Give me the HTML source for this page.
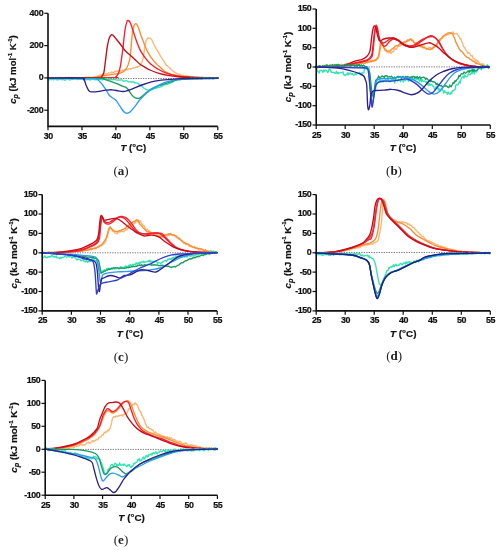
<!DOCTYPE html><html><head><meta charset="utf-8"><style>html,body{margin:0;padding:0;background:#fff;}svg{display:block;}.tk{font-family:"Liberation Sans",Arial,sans-serif;font-weight:bold;font-size:8.9px;letter-spacing:-0.4px;fill:#111;stroke:#111;stroke-width:0.2px;}.al{font-family:"Liberation Sans",Arial,sans-serif;font-weight:bold;font-size:9.6px;fill:#111;stroke:#111;stroke-width:0.2px;}.pl{font-family:"Liberation Serif","Times New Roman",serif;font-size:13px;fill:#222;}</style></head><body>
<svg width="501" height="550" viewBox="0 0 501 550">
<rect width="501" height="550" fill="#fff"/>
<g><line x1="48.0" y1="78.5" x2="217.8" y2="78.5" stroke="#7a7a7a" stroke-width="1" stroke-dasharray="1.3 1.2"/><path d="M48.0 77.8 L48.4 77.9 L48.9 78.0 L49.4 78.1 L49.9 78.2 L50.5 78.0 L51.1 78.2 L51.8 77.3 L52.4 77.7 L53.2 78.2 L53.9 77.9 L54.7 78.2 L55.4 77.4 L56.2 77.7 L57.1 77.5 L57.9 77.8 L58.8 77.9 L59.7 77.3 L60.6 77.5 L61.5 77.6 L62.5 78.2 L63.4 78.0 L64.4 77.4 L65.3 78.1 L66.3 77.4 L67.3 77.9 L68.2 77.4 L69.2 77.3 L70.2 78.1 L71.2 77.5 L72.2 77.5 L73.1 78.2 L74.1 78.1 L75.1 77.5 L76.0 78.2 L77.0 77.7 L77.9 77.9 L78.8 77.4 L79.7 78.1 L80.6 77.9 L81.5 78.1 L82.3 78.0 L83.2 77.4 L84.0 77.5 L84.8 77.3 L85.5 77.2 L86.3 77.1 L87.0 77.3 L87.6 77.6 L88.3 77.0 L88.9 77.6 L89.5 77.3 L90.0 77.2 L91.7 77.6 L93.1 77.1 L94.3 76.8 L95.4 76.9 L96.2 76.9 L97.0 76.1 L97.6 76.8 L98.1 75.7 L98.6 76.2 L99.1 76.1 L99.6 75.1 L100.1 75.7 L100.6 75.0 L101.3 75.1 L102.0 74.3 L102.8 74.2 L103.6 74.1 L104.4 74.7 L105.2 73.7 L106.0 74.0 L106.8 74.0 L107.6 73.8 L108.4 73.0 L109.2 72.8 L110.0 72.8 L110.8 72.8 L111.6 72.0 L112.4 72.4 L113.2 72.3 L114.0 72.2 L114.9 71.2 L115.7 71.9 L116.6 70.9 L117.4 71.0 L118.3 71.2 L119.1 71.3 L120.0 70.6 L120.8 71.1 L121.6 70.6 L122.5 70.2 L123.3 70.1 L124.2 69.8 L125.0 69.5 L125.9 69.4 L126.7 69.8 L127.6 69.9 L128.5 68.9 L129.4 68.6 L130.3 69.3 L131.2 68.6 L132.1 68.3 L133.0 67.9 L133.8 68.0 L134.6 68.0 L135.4 67.5 L136.1 67.2 L136.8 66.7 L137.4 67.4 L137.9 66.3 L139.6 66.1 L140.0 65.8 L141.5 62.8 L142.5 60.7 L143.3 57.6 L144.2 51.0 L145.0 45.8 L146.0 40.9 L147.3 38.7 L148.1 37.8 L149.0 38.1 L150.5 38.2 L152.0 40.1 L153.5 43.5 L155.0 46.5 L156.1 48.6 L157.3 50.3 L158.5 52.4 L159.7 54.7 L160.8 56.5 L162.0 58.3 L162.8 59.7 L163.6 60.7 L164.5 62.2 L165.3 63.8 L166.2 64.9 L167.1 65.6 L168.0 66.5 L168.9 67.2 L169.7 67.8 L170.6 68.7 L171.5 70.0 L172.5 70.8 L173.4 71.1 L174.4 72.2 L175.4 72.8 L176.3 73.2 L177.2 73.6 L178.1 74.1 L179.0 74.1 L179.7 74.7 L180.4 74.5 L181.1 75.0 L181.9 75.5 L183.0 75.7 L183.6 75.4 L184.3 76.2 L185.1 76.0 L185.9 76.1 L186.7 75.6 L187.5 76.3 L188.4 76.1 L189.3 76.6 L190.1 76.5 L191.0 76.9 L191.7 76.8 L192.5 77.0 L193.1 76.6 L193.8 77.0 L194.5 77.1 L195.2 77.3 L196.0 76.9 L196.9 77.4 L197.8 77.5 L198.8 77.3 L200.0 77.7 L200.6 77.7 L201.4 77.3 L202.1 77.3 L203.0 77.0 L203.8 77.7 L204.7 77.8 L205.7 77.4 L206.6 77.6 L207.6 77.7 L208.6 77.7 L209.6 77.2 L210.5 77.8 L211.5 77.7 L212.4 77.8 L213.3 77.6 L214.1 77.8 L215.0 78.0 L215.7 77.9 L216.4 78.0 L217.0 77.3 L217.5 77.4 L218.0 77.8" fill="none" stroke="#ffb574" stroke-width="1.35" stroke-linejoin="round" stroke-linecap="round"/><path d="M48.0 77.8 C55.0 77.8 81.0 77.9 90.0 77.6 C99.0 77.3 98.0 76.5 102.0 75.9 C106.0 75.3 110.8 74.7 114.0 74.2 C117.2 73.7 119.1 73.6 121.1 72.8 C123.1 72.0 124.7 70.6 125.9 69.2 C127.1 67.8 127.6 66.4 128.3 64.4 C129.0 62.4 129.7 59.9 130.1 57.2 C130.5 54.6 130.7 52.3 131.0 48.5 C131.3 44.7 131.7 38.3 132.2 34.5 C132.7 30.7 133.4 27.6 134.0 25.8 C134.6 24.0 135.3 23.4 136.0 23.6 C136.7 23.8 137.4 25.2 138.2 27.0 C139.0 28.8 139.6 31.4 140.6 34.2 C141.6 37.0 143.0 40.7 144.2 43.7 C145.4 46.7 146.4 49.5 147.8 52.1 C149.2 54.7 151.0 57.3 152.5 59.3 C154.0 61.3 155.4 62.8 156.7 64.1 C157.9 65.4 158.6 65.8 160.0 67.0 C161.4 68.2 162.9 70.2 165.0 71.5 C167.1 72.8 169.5 73.9 172.5 74.7 C175.5 75.5 178.4 76.1 183.0 76.6 C187.6 77.1 194.2 77.3 200.0 77.5 C205.8 77.7 215.0 77.8 218.0 77.9" fill="none" stroke="#ff8c2e" stroke-width="1.35" stroke-linejoin="round" stroke-linecap="round"/><path d="M48.0 77.8 C58.7 77.8 100.7 77.7 112.0 77.6 C123.3 77.5 114.6 77.8 115.7 77.0 C116.8 76.2 117.9 74.7 118.7 72.8 C119.5 70.9 120.0 68.2 120.5 65.6 C121.0 63.0 121.3 60.0 121.7 57.2 C122.1 54.4 122.5 52.2 122.9 49.0 C123.3 45.8 123.6 41.7 124.0 38.0 C124.4 34.3 125.0 29.8 125.5 27.0 C126.0 24.2 126.6 22.6 127.0 21.5 C127.4 20.4 127.6 20.5 128.0 20.5 C128.4 20.5 129.0 20.8 129.5 21.5 C130.0 22.2 130.3 22.9 131.0 24.6 C131.7 26.3 132.4 28.8 133.4 31.8 C134.4 34.8 135.8 39.3 137.0 42.5 C138.2 45.7 139.2 48.3 140.6 50.9 C142.0 53.5 143.7 55.9 145.4 58.1 C147.1 60.3 148.7 62.2 150.7 64.0 C152.7 65.8 155.1 67.4 157.5 68.8 C159.9 70.2 161.8 71.4 165.0 72.6 C168.2 73.8 172.0 75.2 177.0 76.0 C182.0 76.8 188.2 77.2 195.0 77.5 C201.8 77.8 214.2 77.8 218.0 77.9" fill="none" stroke="#ff1d2a" stroke-width="1.35" stroke-linejoin="round" stroke-linecap="round"/><path d="M48.0 77.8 C56.0 77.8 87.1 77.8 96.0 77.7 C104.9 77.6 100.1 77.8 101.4 77.0 C102.7 76.2 103.2 74.9 103.8 72.8 C104.4 70.7 104.6 67.4 105.0 64.4 C105.4 61.4 105.8 58.0 106.2 54.8 C106.6 51.6 107.0 47.9 107.6 45.0 C108.1 42.1 108.8 39.2 109.5 37.5 C110.2 35.8 110.9 34.9 111.6 34.6 C112.3 34.3 112.8 35.1 113.5 35.8 C114.2 36.5 115.1 37.7 116.0 38.8 C116.9 39.9 117.9 41.1 119.0 42.5 C120.1 43.9 121.5 45.7 122.5 47.0 C123.5 48.3 124.0 49.4 125.0 50.5 C126.0 51.6 127.3 52.7 128.5 53.8 C129.7 54.9 130.9 55.8 132.2 56.9 C133.4 58.0 134.8 59.3 136.0 60.5 C137.2 61.7 138.2 62.9 139.7 64.0 C141.2 65.1 143.3 66.3 145.0 67.3 C146.7 68.3 147.7 69.0 150.0 70.0 C152.3 71.0 155.8 72.5 159.0 73.4 C162.2 74.4 166.0 75.1 169.5 75.7 C173.0 76.3 175.8 76.7 180.0 77.0 C184.2 77.3 188.7 77.4 195.0 77.6 C201.3 77.8 214.2 77.9 218.0 77.9" fill="none" stroke="#c80c18" stroke-width="1.35" stroke-linejoin="round" stroke-linecap="round"/><path d="M48.0 79.5 L48.5 79.1 L49.1 79.9 L49.8 79.8 L50.5 79.2 L51.2 79.5 L52.0 79.4 L52.9 79.7 L53.8 79.8 L54.7 79.0 L55.7 78.9 L56.7 79.9 L57.7 79.4 L58.8 79.8 L59.9 78.9 L61.0 79.4 L62.1 79.8 L63.3 79.2 L64.4 80.0 L65.6 80.0 L66.7 78.9 L67.9 78.9 L69.1 79.6 L70.2 80.0 L71.4 79.4 L72.5 79.2 L73.7 79.4 L74.8 78.9 L75.9 79.2 L76.9 79.4 L78.0 79.5 L79.0 79.2 L80.0 79.2 L81.0 79.2 L82.1 79.4 L83.1 79.2 L84.2 78.9 L85.3 79.9 L86.4 79.5 L87.4 79.6 L88.5 79.1 L89.6 80.0 L90.7 79.8 L91.7 78.9 L92.8 79.2 L93.9 79.6 L94.9 79.6 L96.0 79.9 L97.0 79.2 L98.1 79.7 L99.1 79.5 L100.1 79.1 L101.1 79.4 L102.1 79.8 L103.1 79.7 L104.0 79.3 L104.9 79.4 L105.8 78.8 L106.7 79.0 L107.6 79.7 L108.4 79.3 L109.2 79.0 L110.0 79.5 L111.4 79.7 L112.7 79.7 L114.0 79.4 L115.1 79.6 L116.3 79.8 L117.3 80.2 L118.3 80.0 L119.3 80.0 L120.2 80.2 L121.1 79.8 L122.0 79.9 L122.8 80.8 L123.6 81.3 L124.4 80.9 L125.2 80.8 L126.0 80.6 L127.4 81.2 L128.6 81.9 L129.8 81.8 L130.9 81.7 L132.0 82.3 L132.9 81.7 L133.8 82.2 L134.7 82.9 L135.5 82.7 L137.0 83.1 L138.1 83.5 L139.1 84.4 L140.0 85.5 L141.2 85.2 L142.3 86.9 L143.5 87.8 L144.4 88.5 L145.4 89.1 L146.4 89.8 L147.5 89.8 L148.5 89.9 L149.5 89.7 L150.6 89.1 L151.8 89.8 L153.1 89.1 L154.0 88.4 L154.9 88.6 L155.9 88.3 L156.8 87.8 L157.9 87.5 L158.9 87.4 L160.0 87.1 L161.1 86.7 L162.1 86.2 L163.1 85.2 L164.1 85.0 L165.2 84.5 L166.2 84.5 L167.3 84.4 L168.4 83.8 L169.6 83.4 L170.7 83.0 L171.6 82.0 L172.3 82.4 L173.0 81.8 L173.6 80.8 L174.3 80.4 L175.0 80.1 L175.9 80.7 L177.0 79.8 L178.3 79.4 L179.9 79.8 L181.9 79.2 L182.6 78.8 L183.3 78.9 L184.2 79.3 L185.0 78.8 L185.9 78.9 L186.9 79.3 L187.9 79.0 L188.9 78.8 L190.0 78.9 L191.1 78.3 L192.3 78.7 L193.4 78.7 L194.6 78.4 L195.8 78.3 L197.0 79.2 L198.2 78.7 L199.4 78.3 L200.7 78.8 L201.9 79.0 L203.1 78.0 L204.3 78.0 L205.4 78.1 L206.6 78.8 L207.7 78.1 L208.8 78.7 L209.9 78.7 L210.9 78.5 L211.9 78.1 L212.9 79.0 L213.8 78.8 L214.6 78.4 L215.4 78.0 L216.2 78.5 L216.9 78.2 L217.5 78.4 L218.0 78.3" fill="none" stroke="#35e3b5" stroke-width="1.35" stroke-linejoin="round" stroke-linecap="round"/><path d="M48.0 78.3 C56.7 78.3 91.0 78.4 100.0 78.4 C109.0 78.5 100.3 78.0 102.3 78.6 C104.3 79.2 109.3 80.9 111.9 81.8 C114.5 82.7 116.5 83.6 118.0 84.2 C119.5 84.8 119.7 85.0 121.0 85.5 C122.3 86.0 124.8 86.7 126.0 87.4 C127.2 88.2 127.7 89.0 128.5 90.0 C129.3 91.0 130.0 92.6 130.8 93.7 C131.6 94.8 132.6 96.0 133.5 96.8 C134.4 97.5 135.5 98.0 136.3 98.2 C137.1 98.5 137.8 98.4 138.5 98.3 C139.2 98.2 139.2 98.5 140.3 97.7 C141.4 96.9 143.2 95.2 145.1 93.7 C147.0 92.2 148.8 90.5 151.5 89.0 C154.2 87.5 157.9 86.2 161.1 85.0 C164.3 83.8 167.2 82.7 170.7 81.8 C174.2 80.9 174.0 80.0 181.9 79.4 C189.8 78.8 212.0 78.5 218.0 78.3" fill="none" stroke="#1c9b5e" stroke-width="1.35" stroke-linejoin="round" stroke-linecap="round"/><path d="M48.0 78.3 C55.7 78.3 86.0 78.3 94.3 78.6 C102.6 78.9 96.9 79.3 98.0 80.0 C99.1 80.7 99.9 81.7 100.7 82.6 C101.5 83.5 102.2 84.4 103.0 85.5 C103.8 86.6 104.5 87.5 105.5 89.0 C106.5 90.5 107.8 93.2 108.7 94.5 C109.6 95.8 110.2 96.1 111.0 96.8 C111.8 97.5 112.6 97.8 113.5 98.5 C114.4 99.2 115.4 99.7 116.4 100.9 C117.4 102.1 118.5 104.1 119.6 105.7 C120.7 107.3 121.9 109.3 122.8 110.5 C123.7 111.7 124.3 112.1 125.0 112.6 C125.7 113.0 126.2 113.2 126.8 113.2 C127.4 113.2 127.8 113.1 128.5 112.8 C129.2 112.5 129.6 112.5 130.8 111.3 C132.0 110.1 133.9 107.7 135.5 105.7 C137.1 103.7 138.4 101.4 140.3 99.3 C142.2 97.2 144.3 94.9 146.7 92.9 C149.1 90.9 151.8 89.1 154.7 87.4 C157.6 85.7 161.1 83.8 164.3 82.6 C167.5 81.4 170.7 80.9 173.9 80.2 C177.1 79.5 176.2 78.9 183.5 78.6 C190.8 78.3 212.2 78.3 218.0 78.2" fill="none" stroke="#2a9cf0" stroke-width="1.35" stroke-linejoin="round" stroke-linecap="round"/><path d="M48.0 78.1 C53.6 78.1 75.6 77.9 81.5 78.1 C87.4 78.3 83.0 79.0 83.5 79.5 C84.0 80.0 84.2 80.0 84.7 81.0 C85.2 82.0 85.6 84.2 86.3 85.8 C87.0 87.4 87.9 89.5 88.7 90.5 C89.5 91.5 89.4 91.7 91.1 91.8 C92.8 91.9 96.7 91.6 99.1 91.3 C101.5 91.0 103.4 90.5 105.5 90.2 C107.6 90.0 109.8 89.7 111.9 89.8 C114.0 89.9 116.5 90.6 118.3 90.9 C120.1 91.2 121.4 91.6 123.0 91.5 C124.6 91.4 126.0 91.0 127.8 90.5 C129.6 90.0 131.7 89.1 134.0 88.2 C136.3 87.3 139.0 86.1 141.9 85.0 C144.8 83.9 148.3 82.6 151.5 81.8 C154.7 81.0 157.4 80.7 161.1 80.2 C164.8 79.8 169.1 79.4 173.9 79.1 C178.7 78.8 182.7 78.6 190.0 78.4 C197.3 78.2 213.3 78.1 218.0 78.1" fill="none" stroke="#2d1f8e" stroke-width="1.35" stroke-linejoin="round" stroke-linecap="round"/><path d="M48.0 13.3 V126.4 H217.8" fill="none" stroke="#111" stroke-width="1.6"/><line x1="48.0" y1="126.4" x2="48.0" y2="130.3" stroke="#111" stroke-width="1.2"/><text class="tk" x="48.3" y="138.9" text-anchor="middle">30</text><line x1="82.0" y1="126.4" x2="82.0" y2="130.3" stroke="#111" stroke-width="1.2"/><text class="tk" x="82.3" y="138.9" text-anchor="middle">35</text><line x1="115.9" y1="126.4" x2="115.9" y2="130.3" stroke="#111" stroke-width="1.2"/><text class="tk" x="116.2" y="138.9" text-anchor="middle">40</text><line x1="149.9" y1="126.4" x2="149.9" y2="130.3" stroke="#111" stroke-width="1.2"/><text class="tk" x="150.2" y="138.9" text-anchor="middle">45</text><line x1="183.8" y1="126.4" x2="183.8" y2="130.3" stroke="#111" stroke-width="1.2"/><text class="tk" x="184.1" y="138.9" text-anchor="middle">50</text><line x1="217.8" y1="126.4" x2="217.8" y2="130.3" stroke="#111" stroke-width="1.2"/><text class="tk" x="218.1" y="138.9" text-anchor="middle">55</text><line x1="44.3" y1="110.2" x2="48.0" y2="110.2" stroke="#111" stroke-width="1.2"/><text class="tk" x="43.2" y="112.6" text-anchor="end">-200</text><line x1="44.3" y1="77.9" x2="48.0" y2="77.9" stroke="#111" stroke-width="1.2"/><text class="tk" x="43.2" y="80.3" text-anchor="end">0</text><line x1="44.3" y1="45.6" x2="48.0" y2="45.6" stroke="#111" stroke-width="1.2"/><text class="tk" x="43.2" y="48.0" text-anchor="end">200</text><line x1="44.3" y1="13.3" x2="48.0" y2="13.3" stroke="#111" stroke-width="1.2"/><text class="tk" x="43.2" y="15.7" text-anchor="end">400</text><text class="al" style="font-size:9.60px" x="133.3" y="151.0" text-anchor="middle"><tspan font-style="italic">T</tspan> (<tspan dy="-0.7">°</tspan><tspan dy="0.7">C)</tspan></text><text class="al" style="font-size:9.60px" transform="translate(16.2 69.5) rotate(-90)" text-anchor="middle"><tspan font-style="italic">c</tspan><tspan font-style="italic" font-size="7.01px" dy="2.02">p</tspan><tspan dy="-2.02"> (kJ mol</tspan><tspan font-size="5.47px" dy="-4.22">-1</tspan><tspan dy="4.22"> K</tspan><tspan font-size="5.47px" dy="-4.22">-1</tspan><tspan dy="4.22">)</tspan></text><text class="pl" x="121.0" y="175.0" text-anchor="middle">(<tspan font-weight="bold">a</tspan>)</text></g>
<g><line x1="316.2" y1="66.9" x2="490.3" y2="66.9" stroke="#7a7a7a" stroke-width="1" stroke-dasharray="1.3 1.2"/><path d="M316.0 67.0 L316.4 66.8 L316.9 67.1 L317.4 67.9 L318.0 66.7 L318.7 66.7 L319.4 66.9 L320.1 65.8 L320.9 66.5 L321.7 66.7 L322.6 67.0 L323.4 65.3 L324.3 65.7 L325.1 65.1 L326.0 66.7 L326.6 66.4 L327.2 64.8 L327.9 67.0 L328.5 66.9 L329.2 66.1 L329.9 66.0 L330.6 64.8 L331.3 64.5 L332.0 65.6 L332.7 64.5 L333.4 64.7 L334.1 64.8 L334.9 64.3 L335.6 65.3 L336.3 65.1 L337.1 66.1 L337.8 65.2 L338.5 65.5 L339.3 65.1 L340.0 65.4 L340.7 64.8 L341.4 64.3 L342.1 66.0 L342.8 65.9 L343.5 65.5 L344.3 65.1 L345.0 64.1 L345.7 63.8 L346.5 63.9 L347.2 63.3 L347.9 64.9 L348.7 64.0 L349.4 65.0 L350.1 63.8 L350.8 65.1 L351.5 64.7 L352.3 62.6 L353.0 63.0 L353.6 64.6 L354.3 63.5 L355.0 64.7 L355.8 63.2 L356.6 62.3 L357.4 63.5 L358.1 63.7 L358.9 62.4 L359.7 61.9 L360.5 62.3 L361.2 63.7 L362.0 63.1 L362.7 61.5 L363.5 61.7 L364.2 61.2 L364.9 61.0 L365.6 62.6 L366.2 61.0 L366.8 61.8 L367.4 61.5 L368.0 60.8 L369.0 61.9 L369.8 60.3 L370.6 61.4 L371.4 60.1 L372.1 60.7 L372.7 60.1 L373.3 60.1 L373.9 61.6 L374.4 61.0 L375.0 59.5 L376.0 60.3 L376.9 58.1 L377.7 57.8 L378.4 57.9 L379.0 56.3 L379.9 51.1 L380.5 49.2 L381.5 41.8 L382.2 42.0 L383.0 44.7 L383.9 46.0 L385.0 48.5 L385.7 49.1 L386.4 50.1 L387.2 52.1 L388.0 51.9 L388.7 52.9 L389.5 52.4 L390.4 52.5 L391.2 53.5 L392.0 52.0 L392.8 51.7 L393.6 51.7 L394.4 49.3 L395.2 48.4 L396.0 49.5 L396.8 48.5 L397.6 46.5 L398.3 45.6 L399.1 46.2 L400.0 46.1 L400.7 43.9 L401.3 45.3 L402.1 44.8 L402.8 43.8 L403.5 43.0 L404.3 41.9 L405.0 41.4 L405.8 43.2 L406.5 41.0 L407.3 41.6 L408.1 40.1 L408.8 41.1 L409.6 40.3 L410.4 39.5 L411.2 39.4 L411.9 41.0 L412.6 39.8 L413.4 40.7 L414.1 42.1 L414.9 43.3 L415.8 43.3 L416.4 42.8 L417.1 44.7 L417.8 43.4 L418.6 43.3 L419.3 44.3 L420.0 45.1 L420.8 44.5 L421.5 45.1 L422.3 45.9 L423.0 46.7 L423.7 45.9 L424.5 46.7 L425.2 48.3 L425.9 48.8 L426.7 48.3 L427.4 48.6 L428.1 48.5 L428.8 47.5 L429.5 47.4 L430.1 47.3 L431.0 49.4 L431.8 48.7 L432.5 49.1 L433.3 46.5 L434.0 47.5 L434.7 46.6 L435.5 46.6 L436.3 44.8 L437.1 45.4 L437.9 42.1 L438.7 42.1 L439.5 41.4 L440.2 40.8 L440.9 39.6 L441.7 38.5 L442.5 38.0 L443.2 37.6 L443.8 35.7 L444.5 35.9 L445.2 36.0 L445.9 35.6 L446.6 34.3 L447.3 34.9 L448.0 34.9 L448.8 33.9 L449.6 33.8 L450.4 33.0 L451.2 33.3 L452.0 33.3 L452.8 31.9 L453.7 33.2 L454.5 34.0 L455.3 33.8 L456.0 33.5 L457.1 33.4 L458.0 35.6 L458.7 36.2 L459.4 37.0 L460.2 39.4 L461.0 39.0 L461.7 42.2 L462.4 42.3 L463.2 45.6 L464.0 47.0 L464.7 47.5 L465.4 49.8 L466.2 50.3 L467.1 51.7 L468.0 53.5 L468.7 52.7 L469.4 52.8 L470.1 54.3 L470.9 56.0 L471.7 55.6 L472.5 56.3 L473.2 58.8 L474.0 58.9 L474.8 59.0 L475.5 60.7 L476.3 60.0 L477.1 61.4 L477.8 60.8 L478.6 61.9 L479.3 63.3 L480.0 64.0 L480.8 64.4 L481.5 63.6 L482.2 64.5 L483.0 64.2 L483.6 64.0 L484.3 65.2 L485.0 66.3 L485.8 66.7 L486.7 66.6 L487.5 67.5 L488.3 66.1 L488.9 66.1 L489.4 67.0" fill="none" stroke="#ffb574" stroke-width="1.35" stroke-linejoin="round" stroke-linecap="round"/><path d="M316.0 67.0 L316.4 67.0 L316.9 67.2 L317.5 67.2 L318.1 66.6 L318.7 66.4 L319.4 66.9 L320.1 66.7 L320.9 67.4 L321.7 67.2 L322.6 67.1 L323.4 67.1 L324.3 67.2 L325.2 66.6 L326.1 67.0 L327.1 66.6 L328.0 67.5 L328.9 66.5 L329.9 67.4 L330.8 66.5 L331.8 67.2 L332.7 66.8 L333.6 66.9 L334.5 67.4 L335.4 66.4 L336.2 66.4 L337.1 67.4 L337.9 66.9 L338.6 66.4 L339.3 67.4 L340.0 67.3 L341.1 66.3 L342.0 66.6 L343.0 66.1 L343.9 66.3 L344.7 66.5 L345.6 65.9 L346.3 66.4 L347.1 65.5 L347.9 65.6 L348.6 66.2 L349.4 65.6 L350.1 65.5 L350.9 65.6 L351.6 65.3 L352.4 65.0 L353.3 64.4 L354.1 65.1 L355.0 65.3 L355.8 65.1 L356.6 64.6 L357.4 64.1 L358.3 64.0 L359.2 64.2 L360.0 64.0 L361.0 63.2 L361.9 63.2 L362.8 63.1 L363.7 63.1 L364.6 63.3 L365.5 62.8 L366.4 62.0 L367.3 62.8 L368.1 62.2 L369.0 62.1 L369.7 61.6 L370.5 61.7 L371.2 61.4 L371.8 61.7 L372.5 60.8 L373.0 61.2 L374.6 60.2 L375.7 60.5 L376.4 59.3 L376.9 59.2 L377.3 58.7 L377.8 58.3 L378.9 53.7 L379.6 49.7 L380.7 41.0 L381.9 42.2 L382.7 44.7 L383.7 47.9 L384.4 48.7 L385.2 50.6 L386.1 50.5 L386.9 51.7 L387.8 51.2 L388.7 50.9 L389.7 51.2 L390.4 51.0 L391.2 49.4 L392.0 49.0 L392.9 48.9 L393.7 47.7 L394.5 47.0 L395.3 46.2 L396.1 45.7 L396.8 45.9 L397.6 45.8 L398.4 45.4 L399.3 44.3 L400.1 43.4 L400.9 43.4 L401.7 43.6 L402.5 43.4 L403.4 42.8 L404.2 42.0 L405.0 42.0 L405.9 41.5 L406.8 41.0 L407.7 39.9 L408.6 40.2 L409.5 39.8 L410.4 38.9 L411.3 39.4 L412.1 40.7 L413.0 40.8 L413.9 42.6 L414.8 42.9 L415.8 43.9 L416.6 44.4 L417.5 44.4 L418.4 44.9 L419.3 45.4 L420.2 46.3 L421.2 46.8 L422.1 46.5 L423.0 47.8 L423.9 47.6 L424.8 47.7 L425.7 48.3 L426.7 49.2 L427.6 49.0 L428.4 49.2 L429.3 49.6 L430.1 49.7 L431.1 49.2 L432.0 48.3 L432.9 48.0 L433.8 47.6 L434.6 46.7 L435.5 45.6 L436.4 44.3 L437.4 43.1 L438.3 42.2 L439.2 40.7 L440.1 38.8 L440.9 38.7 L441.8 37.7 L442.6 36.6 L443.4 36.0 L444.5 35.3 L445.3 34.5 L446.2 34.4 L447.1 33.5 L448.2 32.9 L449.2 32.9 L450.1 32.7 L451.0 33.4 L451.7 33.2 L452.9 34.2 L453.5 36.2 L454.4 37.9 L455.2 40.2 L456.0 42.4 L456.9 44.2 L457.9 46.1 L458.9 48.1 L459.7 49.3 L460.6 50.8 L461.5 51.3 L462.5 52.2 L463.4 53.4 L464.3 54.7 L465.2 55.7 L466.0 56.3 L466.9 57.4 L467.8 57.4 L468.7 57.7 L469.7 59.0 L470.5 59.5 L471.4 59.8 L472.3 61.0 L473.2 61.2 L474.1 61.6 L475.1 62.3 L476.0 63.6 L476.9 62.9 L477.8 63.8 L478.7 64.1 L479.6 64.4 L480.6 65.0 L481.5 65.1 L482.3 66.2 L483.2 66.0 L484.0 66.4 L485.1 66.0 L486.1 66.6 L487.1 66.9 L488.1 67.3 L488.8 66.6 L489.4 67.0" fill="none" stroke="#ff8c2e" stroke-width="1.35" stroke-linejoin="round" stroke-linecap="round"/><path d="M316.0 67.0 C320.0 66.9 333.5 67.1 340.0 66.5 C346.5 65.9 350.5 64.5 355.0 63.5 C359.5 62.5 364.2 61.6 367.0 60.5 C369.8 59.4 370.8 58.5 371.8 56.9 C372.8 55.3 372.6 53.9 373.0 50.9 C373.4 47.9 373.8 42.8 374.2 39.0 C374.6 35.2 375.0 30.5 375.4 28.2 C375.8 25.9 375.9 25.0 376.3 25.2 C376.7 25.4 377.4 27.5 377.8 29.4 C378.2 31.3 378.5 34.5 379.0 36.6 C379.5 38.7 379.9 40.4 380.7 42.0 C381.5 43.6 382.8 45.5 383.7 46.1 C384.6 46.7 385.1 46.3 386.1 45.5 C387.1 44.7 388.5 42.4 389.7 41.3 C390.9 40.2 391.9 39.1 393.3 39.0 C394.7 38.9 396.5 39.8 398.1 40.7 C399.7 41.6 401.1 43.3 402.9 44.3 C404.7 45.3 407.0 46.4 408.9 46.7 C410.8 47.1 411.6 47.5 414.0 46.4 C416.4 45.3 420.2 41.9 423.0 40.1 C425.8 38.3 428.6 35.7 431.0 35.7 C433.4 35.7 435.4 37.9 437.3 40.1 C439.2 42.3 440.9 46.4 442.7 49.1 C444.5 51.8 446.0 54.2 448.1 56.3 C450.2 58.4 452.6 60.3 455.3 61.7 C458.0 63.1 460.7 64.1 464.3 64.9 C467.9 65.7 472.7 66.2 476.9 66.6 C481.1 67.0 487.3 67.0 489.4 67.1" fill="none" stroke="#ff1d2a" stroke-width="1.35" stroke-linejoin="round" stroke-linecap="round"/><path d="M316.0 67.0 C320.0 66.9 333.5 67.0 340.0 66.3 C346.5 65.6 350.5 64.1 355.0 63.0 C359.5 61.9 364.2 61.0 367.0 59.8 C369.8 58.5 370.5 57.5 371.5 55.5 C372.5 53.5 372.4 51.2 372.8 48.0 C373.2 44.8 373.6 39.3 374.0 36.0 C374.4 32.7 374.9 29.6 375.2 28.0 C375.5 26.4 375.6 26.2 376.0 26.5 C376.4 26.8 376.8 28.2 377.3 30.0 C377.8 31.8 378.3 35.1 378.8 37.0 C379.3 38.9 379.7 40.5 380.5 41.5 C381.3 42.5 382.6 43.1 383.7 43.0 C384.8 42.9 385.8 41.8 387.0 41.0 C388.2 40.2 389.7 38.9 391.0 38.5 C392.3 38.1 393.7 38.2 395.0 38.5 C396.3 38.8 397.7 39.7 399.0 40.5 C400.3 41.3 401.4 42.6 403.0 43.5 C404.6 44.4 407.1 45.5 408.9 45.8 C410.7 46.0 411.6 46.1 414.0 45.0 C416.4 43.9 419.8 40.4 423.0 39.0 C426.2 37.6 430.4 36.3 433.0 36.6 C435.6 36.9 436.8 38.8 438.5 41.0 C440.2 43.2 441.8 47.3 443.5 50.0 C445.2 52.7 446.9 55.0 449.0 57.0 C451.1 59.0 453.3 60.7 456.0 62.0 C458.7 63.3 461.5 64.2 465.0 65.0 C468.5 65.8 472.9 66.2 477.0 66.6 C481.1 66.9 487.3 67.0 489.4 67.1" fill="none" stroke="#e8202e" stroke-width="1.35" stroke-linejoin="round" stroke-linecap="round"/><path d="M316.0 67.0 C319.0 67.0 329.2 67.0 334.0 66.7 C338.8 66.4 341.5 65.9 345.0 65.0 C348.5 64.1 352.1 62.1 355.0 61.1 C357.9 60.1 360.2 60.1 362.2 59.3 C364.2 58.5 365.7 57.7 367.0 56.3 C368.3 54.9 369.3 53.4 370.0 50.9 C370.7 48.4 370.8 44.5 371.2 41.3 C371.6 38.1 372.0 34.2 372.4 31.8 C372.8 29.4 373.2 28.0 373.6 27.0 C374.0 26.0 374.4 25.8 374.8 26.0 C375.2 26.2 375.6 26.8 376.0 28.2 C376.4 29.6 376.7 32.2 377.2 34.2 C377.7 36.2 378.4 39.0 379.0 40.1 C379.6 41.2 379.9 40.9 380.7 40.7 C381.5 40.5 382.4 39.5 383.7 39.0 C385.0 38.5 386.9 38.2 388.5 38.0 C390.1 37.8 391.9 37.7 393.3 38.0 C394.7 38.3 395.5 38.8 396.9 39.6 C398.3 40.5 400.3 42.1 401.7 43.1 C403.1 44.1 403.2 44.8 405.0 45.5 C406.8 46.2 409.8 47.3 412.2 47.3 C414.6 47.3 416.7 46.2 419.4 45.5 C422.1 44.8 426.0 42.9 428.4 42.8 C430.8 42.6 431.9 43.7 433.7 44.6 C435.5 45.5 437.3 46.7 439.1 48.2 C440.9 49.7 442.4 51.8 444.5 53.6 C446.6 55.4 449.3 57.5 451.7 59.0 C454.1 60.5 456.2 61.6 458.9 62.6 C461.6 63.6 464.9 64.6 467.9 65.3 C470.9 66.0 473.3 66.3 476.9 66.6 C480.5 66.9 487.3 67.0 489.4 67.1" fill="none" stroke="#c80c18" stroke-width="1.35" stroke-linejoin="round" stroke-linecap="round"/><path d="M316.0 67.0 L316.5 67.4 L317.2 70.9 L318.5 72.2 L319.1 73.1 L319.7 70.5 L320.4 70.7 L321.2 70.3 L322.0 70.5 L322.9 72.5 L323.7 70.0 L324.5 71.5 L325.3 70.1 L326.0 70.4 L326.8 70.9 L327.6 72.5 L328.4 71.5 L329.1 69.0 L329.8 70.0 L330.5 69.5 L331.3 72.4 L332.0 72.2 L332.7 72.3 L333.5 72.6 L334.2 72.4 L334.9 73.5 L335.7 73.1 L336.4 71.1 L337.2 73.7 L338.0 72.4 L338.7 73.6 L339.4 73.0 L340.1 72.6 L340.8 72.4 L341.6 72.8 L342.3 72.5 L343.0 71.8 L343.7 74.7 L344.4 74.7 L345.0 75.5 L345.8 74.5 L346.5 74.0 L347.2 74.9 L347.9 72.5 L348.6 74.8 L349.3 73.9 L350.0 72.9 L350.7 73.1 L351.4 74.5 L352.2 73.5 L352.9 74.5 L353.7 75.2 L354.5 74.4 L355.2 73.4 L356.0 74.8 L356.8 73.7 L357.5 73.5 L358.3 73.2 L359.1 73.7 L359.8 72.3 L360.6 74.4 L361.3 75.2 L362.0 72.6 L362.9 73.1 L363.8 72.9 L364.6 68.2 L365.4 67.4 L366.1 69.2 L366.7 68.9 L367.8 68.3 L368.5 68.6 L369.3 73.9 L370.0 81.5 L370.9 89.6 L371.7 96.2 L373.0 94.8 L373.9 95.0 L375.0 89.5 L375.8 88.1 L376.6 82.8 L377.5 83.9 L378.3 81.4 L379.0 81.5 L380.0 79.3 L380.6 80.9 L381.2 80.9 L381.9 81.0 L382.6 80.2 L383.4 81.8 L384.3 80.4 L384.9 80.2 L385.5 79.7 L386.2 81.8 L386.9 79.6 L387.6 80.1 L388.3 79.5 L389.1 81.8 L389.8 81.4 L390.6 81.4 L391.4 79.4 L392.1 80.9 L392.7 80.5 L393.4 79.5 L394.1 79.1 L394.7 83.0 L395.4 79.4 L396.1 80.1 L396.9 79.9 L397.6 81.1 L398.4 79.0 L399.2 80.5 L400.0 80.0 L400.6 81.8 L401.3 78.4 L402.0 79.6 L402.7 80.2 L403.4 82.0 L404.1 80.1 L404.8 79.8 L405.5 80.5 L406.3 79.0 L407.0 77.8 L407.7 79.6 L408.5 81.2 L409.2 80.5 L410.0 78.5 L410.7 80.2 L411.4 80.9 L412.1 78.6 L412.8 79.9 L413.6 79.0 L414.3 78.6 L415.0 78.8 L415.8 78.5 L416.5 79.2 L417.2 78.0 L418.0 79.5 L418.7 78.4 L419.4 81.2 L420.1 80.7 L420.8 78.5 L421.5 81.7 L422.1 79.6 L422.8 80.9 L423.6 81.5 L424.4 81.0 L425.1 81.2 L425.9 82.2 L426.6 81.5 L427.4 84.9 L428.1 82.4 L428.8 85.7 L429.5 83.7 L430.2 84.5 L430.9 85.3 L431.5 84.3 L432.2 85.0 L433.0 86.3 L433.8 87.0 L434.6 89.0 L435.4 89.8 L436.1 86.2 L436.8 88.4 L437.6 87.1 L438.3 90.0 L439.0 88.4 L439.8 91.0 L440.6 90.0 L441.4 88.7 L442.1 88.7 L442.9 90.2 L443.7 93.1 L444.5 90.7 L445.3 92.4 L446.0 92.3 L446.7 92.5 L447.4 94.4 L448.2 92.0 L449.0 93.9 L449.7 93.5 L450.4 94.2 L451.0 92.1 L451.7 93.2 L452.4 90.7 L453.1 90.6 L453.8 90.1 L454.5 90.1 L455.2 89.4 L455.8 85.3 L456.5 84.4 L457.2 84.9 L458.0 85.0 L458.8 82.9 L459.5 81.2 L460.2 83.1 L460.9 79.6 L461.6 77.9 L462.4 77.0 L463.1 76.1 L463.9 78.1 L464.7 74.9 L465.6 76.7 L466.4 76.7 L467.1 76.8 L467.7 75.7 L468.4 73.8 L469.2 74.3 L469.9 74.9 L470.6 74.2 L471.4 72.2 L472.1 73.9 L472.8 71.0 L473.6 71.6 L474.3 74.0 L475.1 71.6 L475.8 70.5 L476.5 72.1 L477.3 70.4 L478.1 68.1 L478.9 67.7 L479.7 68.1 L480.5 67.8 L481.3 69.7 L482.1 66.5 L482.8 68.4 L483.5 68.0 L484.2 65.9 L484.8 67.9 L485.3 66.7 L486.5 65.5 L487.4 64.8 L488.1 66.1 L488.6 68.3 L489.0 67.0" fill="none" stroke="#35e3b5" stroke-width="1.35" stroke-linejoin="round" stroke-linecap="round"/><path d="M316.0 66.5 L316.5 65.4 L317.0 67.0 L317.6 66.8 L318.3 67.6 L319.1 65.7 L319.9 65.6 L320.7 66.9 L321.6 66.6 L322.5 65.6 L323.5 66.6 L324.4 65.8 L325.4 66.8 L326.3 64.9 L327.3 65.1 L328.2 67.0 L329.1 65.4 L330.0 65.1 L330.8 66.6 L331.6 66.1 L332.4 64.7 L333.3 65.8 L334.1 66.1 L334.9 64.7 L335.8 66.0 L336.6 64.5 L337.4 65.1 L338.3 64.4 L339.1 64.7 L340.0 66.9 L340.8 65.2 L341.6 66.9 L342.5 65.3 L343.3 65.8 L344.2 66.5 L345.0 66.0 L345.8 64.4 L346.7 65.8 L347.6 65.9 L348.5 64.7 L349.4 64.4 L350.3 66.6 L351.2 65.6 L352.1 64.8 L353.0 65.5 L353.9 64.9 L354.7 66.6 L355.6 65.8 L356.4 64.7 L357.2 66.7 L358.0 64.7 L358.7 65.3 L359.4 64.6 L360.0 66.7 L361.3 65.0 L362.5 66.2 L363.5 65.0 L364.4 66.1 L365.2 66.8 L365.9 66.6 L366.6 66.6 L367.2 67.2 L368.5 68.6 L369.2 71.3 L369.9 73.3 L370.9 83.5 L371.7 91.6 L373.1 96.9 L374.5 89.2 L375.1 83.5 L375.8 80.2 L377.1 79.1 L377.8 78.1 L378.6 76.0 L379.5 77.6 L380.4 78.0 L381.4 76.3 L382.4 76.0 L383.4 76.6 L384.3 77.5 L385.2 75.6 L386.0 75.8 L386.9 75.7 L387.8 77.1 L388.6 76.9 L389.5 76.5 L390.4 77.1 L391.4 76.2 L392.2 77.0 L393.0 78.9 L393.8 77.9 L394.6 77.0 L395.4 78.9 L396.3 77.2 L397.2 76.9 L398.1 76.3 L399.0 76.6 L400.0 76.7 L400.7 76.7 L401.5 78.4 L402.3 76.7 L403.1 76.5 L403.9 77.4 L404.7 78.2 L405.5 76.4 L406.4 77.6 L407.2 76.4 L408.1 76.9 L408.9 76.9 L409.7 77.9 L410.6 77.3 L411.4 76.6 L412.2 77.6 L413.1 76.3 L413.9 76.4 L414.8 78.1 L415.6 77.0 L416.5 77.7 L417.3 76.5 L418.2 78.3 L419.0 77.6 L419.8 76.7 L420.6 78.8 L421.4 77.6 L422.1 77.4 L422.8 77.3 L423.8 77.1 L424.7 77.7 L425.6 79.4 L426.4 78.1 L427.2 78.8 L427.9 79.7 L428.7 80.3 L429.5 80.2 L430.3 81.7 L431.1 80.6 L432.0 81.3 L432.8 81.9 L433.7 81.5 L434.5 82.3 L435.4 82.5 L436.2 84.5 L437.1 83.3 L437.9 85.1 L438.8 84.1 L439.6 85.6 L440.5 85.9 L441.4 85.3 L442.3 87.2 L443.1 86.6 L443.9 86.5 L444.7 85.2 L445.5 86.2 L446.4 85.9 L447.3 86.5 L448.2 87.7 L449.0 87.4 L449.8 85.0 L450.5 86.5 L451.2 86.8 L452.2 84.8 L453.1 82.4 L454.0 83.3 L455.0 80.7 L455.7 81.5 L456.4 80.3 L457.2 79.3 L458.0 78.8 L458.9 75.5 L459.8 76.7 L460.7 74.7 L461.5 73.7 L462.3 73.9 L463.1 74.0 L464.0 71.9 L464.8 72.7 L465.7 73.3 L466.6 72.1 L467.4 71.8 L468.3 70.8 L469.1 72.4 L469.9 70.2 L470.7 71.2 L471.5 70.9 L472.3 69.0 L473.2 71.6 L474.0 69.3 L474.9 71.1 L475.8 70.7 L476.6 70.3 L477.5 69.9 L478.4 68.3 L479.4 68.0 L480.3 67.3 L481.3 68.6 L482.2 65.7 L483.1 65.7 L483.9 67.7 L484.6 67.0 L485.3 66.6 L486.7 67.3 L487.7 66.3 L488.5 67.7 L489.0 67.0" fill="none" stroke="#1c9b5e" stroke-width="1.35" stroke-linejoin="round" stroke-linecap="round"/><path d="M316.0 67.0 C320.0 67.0 331.7 67.1 340.0 67.3 C348.3 67.5 361.2 67.2 366.0 68.0 C370.8 68.8 367.8 68.3 368.5 72.0 C369.2 75.7 370.0 85.2 370.5 90.0 C371.0 94.8 371.4 98.8 371.7 101.0 C372.0 103.2 372.1 104.0 372.5 103.0 C372.9 102.0 373.4 98.5 374.0 95.0 C374.6 91.5 375.2 84.7 376.0 82.0 C376.8 79.3 377.5 79.6 379.0 79.0 C380.5 78.4 382.8 78.6 385.0 78.5 C387.2 78.4 389.5 78.7 392.0 78.5 C394.5 78.3 396.8 77.0 400.0 77.1 C403.2 77.2 407.9 77.8 411.4 79.0 C414.9 80.2 418.1 82.5 420.9 84.6 C423.7 86.6 426.2 89.7 428.4 91.3 C430.6 92.9 432.2 94.1 434.1 94.1 C436.0 94.1 437.9 93.0 439.8 91.3 C441.7 89.6 443.6 86.2 445.5 83.7 C447.4 81.2 449.3 78.1 451.2 76.1 C453.1 74.0 454.4 72.7 456.9 71.4 C459.4 70.1 461.0 69.2 466.4 68.5 C471.8 67.8 485.2 67.2 489.0 67.0" fill="none" stroke="#2a9cf0" stroke-width="1.35" stroke-linejoin="round" stroke-linecap="round"/><path d="M316.0 67.0 C320.0 67.1 332.7 67.4 340.0 67.5 C347.3 67.6 355.6 67.7 360.0 67.8 C364.4 67.9 365.3 67.5 366.7 68.2 C368.1 68.9 368.0 68.7 368.5 71.8 C369.0 74.9 369.4 82.0 369.9 86.9 C370.4 91.8 370.9 97.9 371.3 101.3 C371.7 104.7 371.8 107.4 372.2 107.1 C372.6 106.8 373.0 102.9 373.5 99.5 C374.0 96.1 374.6 89.7 375.3 86.9 C376.1 84.1 376.5 83.5 378.0 82.5 C379.5 81.5 382.1 81.4 384.3 81.2 C386.5 81.0 389.0 81.4 391.4 81.2 C393.8 81.0 396.2 80.5 398.6 80.1 C401.0 79.7 404.0 78.9 405.8 78.9 C407.6 78.9 407.6 79.0 409.5 79.9 C411.4 80.9 414.9 82.9 417.1 84.6 C419.3 86.3 420.9 88.7 422.8 90.3 C424.7 91.9 426.7 93.8 428.4 94.1 C430.1 94.4 431.6 93.5 433.2 92.2 C434.8 90.9 436.2 88.7 437.9 86.5 C439.6 84.3 441.7 81.2 443.6 79.0 C445.5 76.8 447.1 74.9 449.3 73.3 C451.5 71.7 454.0 70.5 456.9 69.5 C459.8 68.5 461.0 68.0 466.4 67.6 C471.8 67.2 485.2 67.1 489.0 67.0" fill="none" stroke="#2e3fd6" stroke-width="1.35" stroke-linejoin="round" stroke-linecap="round"/><path d="M316.0 66.8 C319.7 67.0 332.3 67.6 338.0 68.2 C343.7 68.8 346.4 69.7 350.0 70.6 C353.6 71.5 357.2 72.7 359.5 73.6 C361.8 74.5 362.7 74.9 363.7 76.0 C364.7 77.1 365.0 78.6 365.5 80.1 C366.0 81.6 366.3 80.9 366.7 85.0 C367.1 89.1 367.3 100.8 367.6 104.9 C367.9 109.1 368.1 109.9 368.5 109.9 C368.9 109.9 369.5 107.2 369.9 104.9 C370.3 102.6 370.4 98.2 370.8 95.9 C371.2 93.7 371.9 92.3 372.6 91.4 C373.4 90.5 373.4 90.7 375.3 90.5 C377.2 90.3 381.6 90.4 384.3 90.2 C387.0 90.0 389.0 89.2 391.4 89.3 C393.8 89.3 396.2 89.8 398.6 90.5 C401.0 91.2 403.6 92.5 405.7 93.2 C407.8 93.9 409.5 94.7 411.4 94.7 C413.3 94.7 415.2 94.2 417.1 93.2 C419.0 92.2 420.9 90.3 422.8 88.4 C424.7 86.5 426.2 84.0 428.4 81.8 C430.6 79.6 433.5 76.9 436.0 75.2 C438.5 73.5 440.8 72.5 443.6 71.4 C446.5 70.3 449.3 69.2 453.1 68.5 C456.9 67.8 460.4 67.5 466.4 67.2 C472.4 67.0 485.2 67.0 489.0 67.0" fill="none" stroke="#2d1f8e" stroke-width="1.35" stroke-linejoin="round" stroke-linecap="round"/><path d="M316.2 9.0 V125.0 H490.3" fill="none" stroke="#111" stroke-width="1.6"/><line x1="316.2" y1="125.0" x2="316.2" y2="128.9" stroke="#111" stroke-width="1.2"/><text class="tk" x="316.5" y="137.5" text-anchor="middle">25</text><line x1="345.2" y1="125.0" x2="345.2" y2="128.9" stroke="#111" stroke-width="1.2"/><text class="tk" x="345.5" y="137.5" text-anchor="middle">30</text><line x1="374.2" y1="125.0" x2="374.2" y2="128.9" stroke="#111" stroke-width="1.2"/><text class="tk" x="374.5" y="137.5" text-anchor="middle">35</text><line x1="403.2" y1="125.0" x2="403.2" y2="128.9" stroke="#111" stroke-width="1.2"/><text class="tk" x="403.6" y="137.5" text-anchor="middle">40</text><line x1="432.3" y1="125.0" x2="432.3" y2="128.9" stroke="#111" stroke-width="1.2"/><text class="tk" x="432.6" y="137.5" text-anchor="middle">45</text><line x1="461.3" y1="125.0" x2="461.3" y2="128.9" stroke="#111" stroke-width="1.2"/><text class="tk" x="461.6" y="137.5" text-anchor="middle">50</text><line x1="490.3" y1="125.0" x2="490.3" y2="128.9" stroke="#111" stroke-width="1.2"/><text class="tk" x="490.6" y="137.5" text-anchor="middle">55</text><line x1="312.5" y1="125.0" x2="316.2" y2="125.0" stroke="#111" stroke-width="1.2"/><text class="tk" x="311.4" y="127.3" text-anchor="end">-150</text><line x1="312.5" y1="105.7" x2="316.2" y2="105.7" stroke="#111" stroke-width="1.2"/><text class="tk" x="311.4" y="108.0" text-anchor="end">-100</text><line x1="312.5" y1="86.3" x2="316.2" y2="86.3" stroke="#111" stroke-width="1.2"/><text class="tk" x="311.4" y="88.7" text-anchor="end">-50</text><line x1="312.5" y1="67.0" x2="316.2" y2="67.0" stroke="#111" stroke-width="1.2"/><text class="tk" x="311.4" y="69.3" text-anchor="end">0</text><line x1="312.5" y1="47.7" x2="316.2" y2="47.7" stroke="#111" stroke-width="1.2"/><text class="tk" x="311.4" y="50.0" text-anchor="end">50</text><line x1="312.5" y1="28.3" x2="316.2" y2="28.3" stroke="#111" stroke-width="1.2"/><text class="tk" x="311.4" y="30.7" text-anchor="end">100</text><line x1="312.5" y1="9.0" x2="316.2" y2="9.0" stroke="#111" stroke-width="1.2"/><text class="tk" x="311.4" y="11.3" text-anchor="end">150</text><text class="al" style="font-size:9.89px" x="403.0" y="151.0" text-anchor="middle"><tspan font-style="italic">T</tspan> (<tspan dy="-0.7">°</tspan><tspan dy="0.7">C)</tspan></text><text class="al" style="font-size:9.89px" transform="translate(291.0 67.0) rotate(-90)" text-anchor="middle"><tspan font-style="italic">c</tspan><tspan font-style="italic" font-size="7.22px" dy="2.08">p</tspan><tspan dy="-2.08"> (kJ mol</tspan><tspan font-size="5.64px" dy="-4.35">-1</tspan><tspan dy="4.35"> K</tspan><tspan font-size="5.64px" dy="-4.35">-1</tspan><tspan dy="4.35">)</tspan></text><text class="pl" x="394.0" y="174.5" text-anchor="middle">(<tspan font-weight="bold">b</tspan>)</text></g>
<g><line x1="42.2" y1="252.8" x2="217.2" y2="252.8" stroke="#7a7a7a" stroke-width="1" stroke-dasharray="1.3 1.2"/><path d="M42.0 252.8 L42.4 252.1 L42.8 253.2 L43.3 253.0 L43.9 252.7 L44.5 252.2 L45.1 253.3 L45.8 253.4 L46.5 252.8 L47.3 252.7 L48.0 252.2 L48.8 251.7 L49.7 252.4 L50.5 252.9 L51.3 251.8 L52.2 253.2 L53.0 252.1 L53.8 252.1 L54.7 251.7 L55.5 253.6 L56.3 253.0 L57.1 253.3 L57.9 252.7 L58.6 251.5 L59.3 252.1 L60.0 252.4 L60.8 251.6 L61.6 253.2 L62.3 252.0 L63.1 251.5 L63.9 252.8 L64.7 251.3 L65.4 252.9 L66.2 251.8 L66.9 252.0 L67.6 251.5 L68.4 251.7 L69.1 251.0 L69.8 250.6 L70.5 252.2 L71.2 250.9 L71.8 251.9 L72.5 250.7 L73.1 252.1 L73.8 251.9 L74.4 251.6 L75.0 251.5 L75.9 251.1 L76.7 251.3 L77.4 250.0 L78.2 250.6 L78.9 251.3 L79.5 249.9 L80.2 251.3 L80.8 251.2 L81.5 250.1 L82.1 249.9 L82.8 250.0 L83.5 249.8 L84.2 250.9 L85.0 249.6 L85.7 248.7 L86.4 248.8 L87.1 249.9 L87.8 250.3 L88.6 249.2 L89.3 249.1 L90.1 249.1 L90.9 249.4 L91.6 248.2 L92.4 248.8 L93.1 248.6 L93.8 248.5 L94.5 247.5 L95.2 247.3 L95.9 247.5 L96.4 248.5 L97.0 247.2 L98.1 247.3 L99.0 246.3 L99.8 245.5 L100.6 245.0 L101.2 246.0 L101.9 245.5 L102.4 244.2 L103.0 244.4 L104.0 243.5 L104.8 243.0 L105.4 242.1 L106.0 239.8 L107.1 237.5 L108.0 233.9 L108.8 230.8 L109.5 229.8 L110.2 228.3 L111.0 228.3 L111.9 229.1 L113.0 231.8 L113.6 230.9 L114.3 231.4 L115.1 233.3 L116.0 233.5 L116.6 233.0 L117.3 233.7 L118.0 232.0 L118.8 232.2 L119.5 232.1 L120.3 232.1 L121.0 231.3 L121.7 230.9 L122.4 231.1 L123.1 231.9 L123.9 231.7 L124.6 230.8 L125.3 229.9 L126.0 229.0 L126.7 230.0 L127.4 228.6 L128.1 228.6 L128.9 226.6 L129.6 226.5 L130.3 227.2 L131.0 226.6 L131.7 226.2 L132.5 225.0 L133.2 224.0 L134.0 223.7 L134.7 223.6 L135.4 222.0 L136.0 222.1 L136.9 221.0 L137.6 221.6 L138.3 220.0 L139.0 221.4 L139.7 222.2 L140.4 220.8 L141.1 222.7 L142.0 223.8 L142.6 224.9 L143.3 225.3 L144.0 225.7 L144.7 227.0 L145.4 229.1 L146.2 230.0 L147.0 229.3 L147.7 229.8 L148.4 230.4 L149.1 230.8 L149.9 232.2 L150.6 232.0 L151.4 233.9 L152.2 233.9 L153.0 233.3 L153.7 234.4 L154.4 234.2 L155.1 234.8 L155.8 234.5 L156.5 234.6 L157.2 234.8 L157.9 235.4 L158.6 236.2 L159.3 236.0 L160.0 235.1 L160.8 236.5 L161.6 236.8 L162.3 236.5 L163.1 236.5 L163.8 234.8 L164.5 235.6 L165.3 234.7 L166.0 236.0 L166.8 234.8 L167.5 235.7 L168.3 234.7 L169.1 235.5 L169.8 234.6 L170.6 234.0 L171.3 234.7 L172.0 234.6 L172.7 235.9 L173.4 234.9 L174.1 235.5 L174.8 235.9 L175.5 237.0 L176.2 235.7 L177.0 237.2 L177.6 237.4 L178.3 238.4 L179.0 239.4 L179.7 238.6 L180.4 240.0 L181.1 240.3 L181.8 241.0 L182.6 240.6 L183.3 242.6 L184.0 243.5 L184.7 242.7 L185.4 243.1 L186.1 244.8 L186.8 243.5 L187.5 243.8 L188.2 244.2 L188.9 246.1 L189.6 246.3 L190.3 246.1 L191.0 246.7 L191.7 245.9 L192.4 247.4 L193.1 247.3 L193.8 247.7 L194.5 247.7 L195.2 247.9 L195.9 247.8 L196.6 247.7 L197.3 248.7 L198.0 248.5 L198.7 249.6 L199.5 250.0 L200.2 250.0 L200.9 249.6 L201.7 249.4 L202.4 249.8 L203.2 250.2 L203.9 250.6 L204.7 251.4 L205.4 249.8 L206.1 250.7 L206.9 250.9 L207.7 251.4 L208.4 251.9 L209.2 251.8 L209.9 251.6 L210.7 252.0 L211.3 251.9 L212.0 252.4 L212.6 252.2 L213.5 252.3 L214.4 251.6 L215.2 253.1 L216.0 252.2 L216.6 252.7 L217.0 252.6" fill="none" stroke="#ffb574" stroke-width="1.35" stroke-linejoin="round" stroke-linecap="round"/><path d="M42.0 252.8 L42.4 253.3 L43.0 252.3 L43.6 252.2 L44.2 253.3 L44.9 252.4 L45.7 252.3 L46.5 252.9 L47.3 252.5 L48.2 253.1 L49.1 252.3 L50.1 253.2 L51.0 252.4 L52.0 252.7 L52.9 253.1 L53.9 252.7 L54.8 253.0 L55.8 252.7 L56.7 251.9 L57.6 252.9 L58.4 252.5 L59.2 252.1 L60.0 251.9 L60.9 252.7 L61.8 252.3 L62.7 252.7 L63.6 252.4 L64.5 252.6 L65.4 252.0 L66.3 252.1 L67.1 252.0 L68.0 251.5 L68.8 252.2 L69.7 251.4 L70.5 251.9 L71.3 252.0 L72.1 251.6 L72.8 250.9 L73.6 251.7 L74.3 251.5 L75.0 250.8 L76.0 250.6 L76.9 251.1 L77.8 250.5 L78.6 251.5 L79.4 251.0 L80.2 251.0 L80.9 250.8 L81.7 251.1 L82.5 251.3 L83.3 250.5 L84.1 250.5 L85.0 250.6 L85.8 250.1 L86.5 250.3 L87.4 250.1 L88.2 249.8 L89.1 249.9 L89.9 249.6 L90.8 248.8 L91.7 249.7 L92.5 248.7 L93.4 248.6 L94.2 248.3 L95.0 248.7 L95.7 248.5 L96.4 247.8 L97.0 247.4 L98.2 246.5 L99.2 246.9 L100.1 245.4 L101.0 245.3 L101.7 244.4 L102.4 243.7 L103.0 243.1 L104.2 241.5 L105.2 239.8 L106.0 238.5 L106.9 236.1 L107.7 232.8 L108.4 229.7 L109.3 228.2 L110.1 226.7 L110.8 227.5 L111.6 229.0 L112.5 230.1 L113.3 230.1 L114.1 231.1 L115.1 231.1 L116.1 231.3 L116.8 231.4 L117.6 231.7 L118.4 231.2 L119.3 230.7 L120.1 230.7 L120.9 230.3 L121.9 229.6 L122.8 229.7 L123.8 229.2 L124.8 228.5 L125.7 228.3 L126.6 226.6 L127.4 226.5 L128.2 226.0 L129.1 224.9 L130.0 224.0 L130.9 224.0 L131.8 223.0 L132.8 222.1 L133.8 221.2 L134.7 221.8 L135.4 220.6 L136.7 219.7 L137.7 220.3 L138.6 221.5 L139.6 223.9 L140.8 224.9 L141.5 225.9 L142.4 226.6 L143.2 228.0 L144.2 228.7 L145.2 229.7 L146.2 231.0 L146.9 231.7 L147.7 232.0 L148.5 231.5 L149.3 232.3 L150.2 233.2 L151.0 232.6 L151.8 233.2 L152.6 233.8 L153.4 234.1 L154.3 235.0 L155.2 235.4 L156.1 235.6 L157.0 235.8 L157.9 236.2 L158.7 236.5 L159.6 236.4 L160.5 237.1 L161.4 236.3 L162.3 236.9 L163.3 236.2 L164.2 235.1 L165.0 235.3 L165.9 235.2 L166.9 234.3 L167.8 234.6 L168.7 233.8 L169.5 234.5 L170.4 233.5 L171.3 234.4 L172.2 235.0 L173.0 235.1 L173.9 234.8 L174.8 235.7 L175.7 235.8 L176.7 236.7 L177.4 237.8 L178.2 238.3 L179.0 238.0 L179.8 239.1 L180.6 240.0 L181.4 240.1 L182.3 241.5 L183.1 242.2 L183.9 242.4 L184.8 242.7 L185.7 243.8 L186.6 243.8 L187.5 243.9 L188.4 244.4 L189.3 244.7 L190.2 245.9 L191.1 245.9 L191.9 246.5 L192.7 247.0 L193.5 247.5 L194.3 246.8 L195.1 247.4 L195.9 248.2 L196.7 248.4 L197.5 248.2 L198.3 248.8 L199.2 248.5 L200.1 248.7 L201.0 248.8 L201.8 249.4 L202.7 249.5 L203.6 250.0 L204.5 250.8 L205.4 250.0 L206.3 250.7 L207.3 251.2 L208.2 251.1 L209.2 251.1 L210.1 251.6 L211.0 250.8 L211.8 252.1 L212.6 251.9 L213.7 252.3 L214.8 252.5 L215.7 251.8 L216.4 252.0 L217.0 252.6" fill="none" stroke="#ff8c2e" stroke-width="1.35" stroke-linejoin="round" stroke-linecap="round"/><path d="M42.0 252.8 C45.8 252.7 58.7 252.6 65.0 252.2 C71.3 251.8 75.8 251.4 80.0 250.5 C84.2 249.6 87.2 248.2 90.0 247.0 C92.8 245.8 95.4 244.7 97.0 243.3 C98.6 241.9 98.8 241.3 99.4 238.5 C100.0 235.7 100.2 230.0 100.6 226.6 C101.0 223.2 101.4 219.5 101.8 218.2 C102.2 216.8 102.6 217.8 103.0 218.5 C103.4 219.2 103.4 221.5 104.2 222.4 C105.0 223.3 106.6 224.1 107.8 224.2 C109.0 224.3 110.1 223.7 111.3 223.0 C112.5 222.3 113.7 221.0 114.9 220.0 C116.1 219.0 117.3 217.6 118.5 217.0 C119.7 216.4 120.9 216.3 122.1 216.4 C123.3 216.5 124.5 216.9 125.7 217.6 C126.9 218.3 128.1 219.3 129.3 220.6 C130.5 221.9 131.7 223.8 132.9 225.4 C134.1 227.0 135.3 228.8 136.5 230.1 C137.7 231.4 138.2 232.4 140.1 233.1 C142.0 233.8 145.5 234.2 148.0 234.2 C150.5 234.2 152.9 233.1 155.1 233.0 C157.3 232.9 159.6 232.6 161.4 233.4 C163.2 234.2 164.2 236.2 165.9 237.8 C167.6 239.4 169.5 241.5 171.3 243.2 C173.1 244.8 174.6 246.5 176.7 247.7 C178.8 248.9 180.8 249.7 183.9 250.4 C187.0 251.1 189.5 251.6 195.0 252.0 C200.5 252.4 213.3 252.5 217.0 252.6" fill="none" stroke="#ff1d2a" stroke-width="1.35" stroke-linejoin="round" stroke-linecap="round"/><path d="M42.0 252.8 C45.8 252.7 58.7 252.5 65.0 252.1 C71.3 251.7 75.8 251.1 80.0 250.2 C84.2 249.3 87.2 247.8 90.0 246.5 C92.8 245.2 95.0 244.2 96.5 242.5 C98.0 240.8 98.4 238.9 99.0 236.0 C99.6 233.1 99.8 228.1 100.2 225.0 C100.6 221.9 100.9 218.8 101.3 217.5 C101.7 216.2 102.1 216.5 102.5 217.0 C102.9 217.5 103.1 219.6 103.8 220.5 C104.5 221.4 105.5 222.2 106.5 222.5 C107.5 222.8 108.8 222.5 110.0 222.0 C111.2 221.5 112.7 220.2 114.0 219.5 C115.3 218.8 116.8 217.9 118.0 217.5 C119.2 217.1 119.9 216.8 121.0 217.0 C122.1 217.2 123.3 217.7 124.5 218.5 C125.7 219.3 126.8 220.7 128.0 222.0 C129.2 223.3 130.3 225.1 131.5 226.5 C132.7 227.9 133.8 229.4 135.0 230.5 C136.2 231.6 137.2 232.2 139.0 232.8 C140.8 233.4 143.7 233.8 146.0 233.8 C148.3 233.8 150.7 233.0 153.0 233.0 C155.3 233.0 158.1 233.1 160.0 233.8 C161.9 234.6 162.8 236.0 164.5 237.5 C166.2 239.0 168.2 241.3 170.0 243.0 C171.8 244.7 173.3 246.3 175.5 247.5 C177.7 248.7 179.8 249.6 183.0 250.3 C186.2 251.1 189.3 251.6 195.0 252.0 C200.7 252.4 213.3 252.5 217.0 252.6" fill="none" stroke="#ea2432" stroke-width="1.35" stroke-linejoin="round" stroke-linecap="round"/><path d="M42.0 252.8 C45.0 252.7 54.0 252.7 60.0 252.1 C66.0 251.5 73.7 250.3 77.9 249.4 C82.1 248.5 82.6 247.9 85.0 246.9 C87.4 245.9 90.2 244.5 92.2 243.3 C94.2 242.1 95.9 241.5 97.0 239.7 C98.1 237.9 98.4 235.1 98.8 232.5 C99.2 229.9 99.3 226.8 99.6 224.2 C99.9 221.6 100.3 218.4 100.6 217.0 C100.9 215.6 101.2 215.4 101.5 215.5 C101.8 215.6 102.3 216.8 102.7 217.6 C103.1 218.3 103.4 219.6 103.9 220.0 C104.5 220.4 105.0 220.2 106.0 220.0 C107.0 219.8 108.6 219.4 110.1 219.1 C111.6 218.8 113.5 218.3 114.9 218.4 C116.3 218.5 117.3 218.8 118.5 219.4 C119.7 220.0 120.9 220.9 122.1 221.8 C123.3 222.7 124.3 223.7 125.7 224.8 C127.1 225.9 128.9 227.2 130.5 228.4 C132.1 229.6 133.7 230.9 135.3 231.9 C136.9 232.9 138.6 233.6 140.1 234.3 C141.6 235.0 142.5 235.9 144.4 236.0 C146.3 236.1 149.2 234.9 151.6 235.1 C154.0 235.2 156.3 235.7 158.7 236.9 C161.1 238.1 163.5 240.7 165.9 242.3 C168.3 244.0 170.7 245.6 173.1 246.8 C175.5 248.0 177.6 248.8 180.3 249.5 C183.0 250.2 186.0 250.8 189.3 251.3 C192.6 251.8 195.4 252.1 200.0 252.3 C204.6 252.5 214.2 252.6 217.0 252.6" fill="none" stroke="#c80c18" stroke-width="1.35" stroke-linejoin="round" stroke-linecap="round"/><path d="M42.0 255.8 L42.5 257.0 L43.1 257.3 L43.9 257.5 L44.8 255.9 L45.7 257.5 L46.6 257.3 L47.4 257.7 L48.1 256.7 L48.8 256.7 L49.4 257.2 L50.1 256.4 L50.8 256.8 L51.5 255.5 L52.2 255.6 L53.0 257.0 L53.6 256.3 L54.3 256.6 L54.9 257.3 L55.6 256.5 L56.3 256.0 L57.0 257.9 L57.7 257.6 L58.4 257.9 L59.2 257.9 L60.0 258.7 L60.7 257.3 L61.4 258.1 L62.1 257.1 L62.9 257.5 L63.6 257.6 L64.4 256.6 L65.2 255.9 L65.9 256.7 L66.7 257.2 L67.5 256.9 L68.2 256.5 L69.0 257.0 L69.7 256.0 L70.5 256.2 L71.2 256.7 L72.0 258.1 L72.7 256.9 L73.5 257.0 L74.2 257.2 L74.9 257.3 L75.7 258.2 L76.4 259.1 L77.2 260.0 L77.9 259.0 L78.7 259.3 L79.4 259.3 L80.2 259.5 L81.0 260.9 L81.7 260.5 L82.5 260.0 L83.3 259.8 L84.0 261.6 L84.8 261.5 L85.5 261.9 L86.2 260.6 L86.9 261.3 L87.7 262.2 L88.5 261.2 L89.3 261.9 L90.1 259.8 L90.9 261.5 L91.6 259.0 L92.3 259.6 L93.0 258.5 L93.6 260.2 L94.1 259.8 L95.1 260.6 L95.8 260.4 L96.4 261.2 L97.0 261.1 L97.9 264.3 L98.7 266.5 L99.5 268.0 L100.4 272.8 L101.3 273.4 L102.1 272.3 L103.1 270.5 L103.7 270.9 L104.4 269.7 L105.2 271.0 L106.0 270.6 L106.6 268.6 L107.2 268.2 L107.9 269.0 L108.6 268.1 L109.4 268.8 L110.3 269.4 L110.9 267.9 L111.5 268.2 L112.2 269.3 L112.9 268.1 L113.7 267.8 L114.4 269.1 L115.2 268.8 L115.9 268.9 L116.7 268.3 L117.4 267.6 L118.1 268.2 L118.8 268.5 L119.5 267.9 L120.3 266.9 L121.0 267.0 L121.7 267.2 L122.4 268.0 L123.1 267.4 L123.9 267.2 L124.6 267.8 L125.3 265.9 L126.0 267.0 L126.7 266.1 L127.3 266.5 L128.0 266.9 L128.7 265.3 L129.4 266.8 L130.2 264.5 L131.1 265.4 L132.0 265.1 L132.6 264.2 L133.2 264.8 L133.9 264.4 L134.6 264.2 L135.3 264.7 L136.1 262.7 L136.8 263.4 L137.6 264.2 L138.4 262.5 L139.1 264.0 L139.9 262.2 L140.6 263.2 L141.4 261.8 L142.1 262.3 L142.7 262.1 L143.4 261.1 L144.0 262.5 L144.9 261.8 L145.7 262.1 L146.4 261.6 L147.2 261.5 L147.9 261.3 L148.5 260.7 L149.2 262.0 L149.8 260.0 L150.5 261.9 L151.2 261.8 L151.9 261.0 L152.6 261.8 L153.3 261.7 L154.1 261.7 L154.8 261.2 L155.5 261.6 L156.3 261.9 L157.0 262.0 L157.7 263.8 L158.4 262.5 L159.2 262.7 L159.9 262.8 L160.6 263.7 L161.4 262.7 L162.1 262.7 L162.8 261.7 L163.5 261.4 L164.3 260.7 L165.0 260.6 L165.7 260.4 L166.4 261.5 L167.2 260.3 L167.9 259.1 L168.6 259.6 L169.3 258.5 L170.0 259.3 L170.7 258.7 L171.4 259.4 L172.1 257.7 L172.8 258.8 L173.6 257.1 L174.3 258.6 L175.1 257.5 L175.9 255.9 L176.6 257.6 L177.2 256.2 L177.9 256.3 L178.6 255.7 L179.3 257.3 L180.1 255.4 L180.8 256.9 L181.5 256.1 L182.3 256.7 L183.0 255.7 L183.7 255.2 L184.5 257.1 L185.2 256.4 L185.9 255.2 L186.6 257.1 L187.3 256.9 L188.0 255.1 L188.6 254.6 L189.3 256.0 L189.9 254.8 L190.6 256.2 L191.3 255.5 L192.0 256.0 L192.7 255.6 L193.4 256.0 L194.2 256.0 L195.0 255.4 L195.8 255.2 L196.4 254.5 L197.1 253.9 L197.7 253.6 L198.4 255.3 L199.2 253.6 L199.9 254.0 L200.7 253.5 L201.4 254.1 L202.2 253.7 L203.0 254.3 L203.7 253.1 L204.5 252.7 L205.2 253.2 L206.0 253.3 L206.7 253.6 L207.4 252.0 L208.0 253.2 L208.7 253.3 L209.2 253.2 L209.8 251.1 L210.8 251.6 L211.8 252.5 L212.7 252.7 L213.5 250.9 L214.3 251.8 L215.0 252.7 L215.6 252.9 L216.1 252.5 L216.6 251.8 L217.0 252.5" fill="none" stroke="#35e3b5" stroke-width="1.35" stroke-linejoin="round" stroke-linecap="round"/><path d="M42.0 252.8 L42.4 253.0 L43.0 253.2 L43.5 252.6 L44.2 253.4 L44.9 252.6 L45.6 253.1 L46.4 252.6 L47.2 253.3 L48.1 252.7 L49.0 253.3 L49.9 253.4 L50.8 253.5 L51.8 253.2 L52.7 253.7 L53.7 253.9 L54.6 253.0 L55.6 253.5 L56.5 254.0 L57.4 253.8 L58.3 253.6 L59.2 253.5 L60.0 254.3 L60.8 253.5 L61.6 254.2 L62.5 254.4 L63.3 253.8 L64.1 254.0 L65.0 254.1 L65.8 254.4 L66.7 254.3 L67.5 255.0 L68.3 255.1 L69.2 254.6 L70.0 255.2 L70.8 254.5 L71.7 254.6 L72.5 255.3 L73.3 255.5 L74.1 255.7 L74.9 255.9 L75.6 255.9 L76.4 255.4 L77.2 256.0 L77.9 256.2 L78.9 255.5 L79.8 256.0 L80.8 255.8 L81.7 255.9 L82.7 256.3 L83.6 256.6 L84.5 257.0 L85.4 256.3 L86.3 256.8 L87.2 257.4 L88.0 257.2 L88.8 257.1 L89.6 256.9 L90.3 257.4 L91.0 257.2 L91.7 257.6 L92.3 257.7 L93.8 257.7 L94.9 258.4 L95.8 258.2 L96.5 258.5 L97.1 259.2 L97.7 259.2 L98.8 261.4 L99.5 264.9 L100.4 268.9 L101.3 272.9 L102.1 272.7 L103.1 272.1 L103.9 271.3 L104.8 271.1 L106.0 270.3 L106.7 270.1 L107.5 270.1 L108.4 269.0 L109.3 269.6 L110.2 269.1 L111.0 268.9 L111.9 268.4 L112.7 268.3 L113.6 268.0 L114.5 267.9 L115.6 267.7 L116.3 267.8 L117.0 267.8 L117.7 267.9 L118.5 268.5 L119.3 268.5 L120.2 268.4 L121.0 267.8 L121.9 268.0 L122.8 268.2 L123.6 268.3 L124.3 268.0 L125.1 268.1 L125.9 268.2 L126.7 267.5 L127.5 267.4 L128.4 267.7 L129.2 267.1 L130.1 267.3 L131.1 266.8 L132.0 266.3 L132.7 266.7 L133.5 266.1 L134.2 266.7 L135.0 266.6 L135.8 266.2 L136.6 266.4 L137.4 265.6 L138.2 265.7 L139.1 265.3 L139.9 265.0 L140.7 265.7 L141.6 264.8 L142.4 265.6 L143.2 265.1 L144.0 265.2 L144.9 264.5 L145.7 265.3 L146.6 265.2 L147.5 264.4 L148.3 264.5 L149.2 264.5 L150.1 264.8 L150.9 264.4 L151.8 265.2 L152.6 264.9 L153.5 265.1 L154.3 264.7 L155.1 265.1 L155.9 265.0 L156.8 265.2 L157.7 265.0 L158.6 265.7 L159.4 265.6 L160.3 265.7 L161.1 265.3 L162.0 265.2 L162.8 265.3 L163.6 265.4 L164.4 266.3 L165.1 265.7 L165.9 266.4 L166.8 265.9 L167.6 266.4 L168.4 266.2 L169.2 266.4 L170.0 267.1 L170.8 267.1 L171.6 267.5 L172.3 266.9 L173.1 266.9 L173.9 266.6 L174.7 266.5 L175.5 267.0 L176.3 266.2 L177.1 265.7 L177.9 265.2 L178.7 265.1 L179.5 264.5 L180.3 263.5 L181.1 263.0 L181.9 262.7 L182.7 262.9 L183.5 262.4 L184.2 261.5 L185.0 261.1 L185.8 260.7 L186.6 260.7 L187.4 260.4 L188.2 259.5 L189.0 259.2 L189.9 258.7 L190.7 259.2 L191.4 258.5 L192.2 258.6 L193.0 257.6 L193.9 257.8 L194.7 257.5 L195.6 257.6 L196.4 256.8 L197.3 256.4 L198.1 256.8 L199.0 256.7 L199.8 256.0 L200.6 255.6 L201.5 255.1 L202.4 255.2 L203.3 255.5 L204.2 254.7 L205.1 254.6 L206.0 254.5 L206.8 253.9 L207.7 253.6 L208.5 253.8 L209.3 254.1 L210.0 253.9 L211.1 253.1 L212.1 253.4 L213.2 253.4 L214.1 253.0 L215.0 252.7 L215.8 252.5 L216.5 253.0 L217.0 252.7" fill="none" stroke="#1c9b5e" stroke-width="1.35" stroke-linejoin="round" stroke-linecap="round"/><path d="M42.0 252.8 C45.0 252.9 54.0 253.2 60.0 253.6 C66.0 253.9 72.2 254.4 77.9 254.9 C83.6 255.4 90.9 255.9 94.1 256.7 C97.2 257.4 96.0 257.4 96.8 259.4 C97.5 261.3 98.1 265.1 98.6 268.4 C99.1 271.7 99.5 276.6 99.8 279.0 C100.1 281.4 100.3 282.8 100.6 282.8 C100.9 282.8 101.2 280.4 101.6 279.0 C102.0 277.6 101.9 275.5 103.1 274.5 C104.2 273.5 106.1 273.2 108.5 272.8 C110.9 272.4 114.7 272.1 117.4 271.9 C120.1 271.7 121.5 271.8 124.6 271.6 C127.7 271.5 131.8 271.3 136.0 271.0 C140.2 270.7 146.0 270.5 150.0 270.0 C154.0 269.5 156.7 269.2 160.0 268.0 C163.3 266.8 166.6 264.7 169.9 263.0 C173.2 261.3 176.6 259.4 179.9 258.0 C183.2 256.6 186.6 255.4 189.9 254.6 C193.2 253.8 195.5 253.5 200.0 253.2 C204.5 252.9 214.2 252.8 217.0 252.7" fill="none" stroke="#2a9cf0" stroke-width="1.35" stroke-linejoin="round" stroke-linecap="round"/><path d="M42.0 252.8 C46.5 253.2 62.1 254.1 69.0 254.9 C75.9 255.7 79.4 256.7 83.3 257.6 C87.2 258.5 90.2 259.4 92.3 260.3 C94.4 261.2 95.1 261.2 95.9 263.0 C96.7 264.8 96.9 267.7 97.3 271.0 C97.7 274.3 97.9 279.8 98.2 283.0 C98.5 286.2 98.7 289.2 98.9 290.5 C99.1 291.8 99.3 291.9 99.6 290.8 C99.9 289.7 100.2 285.9 100.5 284.0 C100.8 282.1 101.1 280.3 101.5 279.3 C101.9 278.3 101.6 278.8 103.1 278.2 C104.6 277.6 107.9 275.6 110.3 275.5 C112.7 275.4 115.8 276.9 117.4 277.3 C119.0 277.7 118.8 278.2 120.0 277.9 C121.2 277.6 122.9 276.0 124.6 275.5 C126.3 275.0 127.4 275.8 130.0 274.9 C132.6 274.0 137.0 270.7 140.0 270.0 C143.0 269.3 145.3 270.2 148.0 270.5 C150.7 270.8 153.3 272.6 156.0 272.0 C158.7 271.4 161.2 268.8 163.9 267.0 C166.6 265.2 169.2 262.8 171.9 261.0 C174.6 259.2 176.9 257.2 179.9 256.0 C182.9 254.8 183.7 254.6 189.9 254.0 C196.1 253.4 212.5 252.9 217.0 252.7" fill="none" stroke="#2d1f8e" stroke-width="1.35" stroke-linejoin="round" stroke-linecap="round"/><path d="M42.0 252.8 C46.5 253.2 62.1 254.0 69.0 254.9 C75.9 255.8 79.7 257.6 83.3 258.5 C86.9 259.4 88.8 259.7 90.5 260.3 C92.2 260.9 92.5 260.2 93.2 262.1 C94.0 264.0 94.5 267.3 95.0 271.9 C95.5 276.5 95.9 286.2 96.2 289.9 C96.5 293.6 96.4 294.2 96.8 293.9 C97.2 293.6 97.8 289.8 98.6 288.1 C99.3 286.4 99.6 284.7 101.3 283.6 C103.0 282.6 105.8 282.4 108.5 281.8 C111.2 281.2 115.5 280.6 117.4 280.0 C119.3 279.4 118.8 279.1 120.0 278.5 C121.2 277.9 122.9 277.3 124.6 276.5 C126.3 275.7 127.4 274.9 130.0 273.5 C132.6 272.1 136.7 269.6 140.0 268.0 C143.3 266.4 146.7 265.5 150.0 264.0 C153.3 262.5 156.7 260.4 160.0 259.0 C163.3 257.6 166.7 256.2 170.0 255.4 C173.3 254.6 172.2 254.4 180.0 254.0 C187.8 253.6 210.8 252.9 217.0 252.7" fill="none" stroke="#2e3fd6" stroke-width="1.35" stroke-linejoin="round" stroke-linecap="round"/><path d="M42.2 194.6 V310.9 H217.2" fill="none" stroke="#111" stroke-width="1.6"/><line x1="42.2" y1="310.9" x2="42.2" y2="314.8" stroke="#111" stroke-width="1.2"/><text class="tk" x="42.5" y="323.4" text-anchor="middle">25</text><line x1="71.4" y1="310.9" x2="71.4" y2="314.8" stroke="#111" stroke-width="1.2"/><text class="tk" x="71.7" y="323.4" text-anchor="middle">30</text><line x1="100.5" y1="310.9" x2="100.5" y2="314.8" stroke="#111" stroke-width="1.2"/><text class="tk" x="100.8" y="323.4" text-anchor="middle">35</text><line x1="129.7" y1="310.9" x2="129.7" y2="314.8" stroke="#111" stroke-width="1.2"/><text class="tk" x="130.0" y="323.4" text-anchor="middle">40</text><line x1="158.9" y1="310.9" x2="158.9" y2="314.8" stroke="#111" stroke-width="1.2"/><text class="tk" x="159.2" y="323.4" text-anchor="middle">45</text><line x1="188.0" y1="310.9" x2="188.0" y2="314.8" stroke="#111" stroke-width="1.2"/><text class="tk" x="188.3" y="323.4" text-anchor="middle">50</text><line x1="217.2" y1="310.9" x2="217.2" y2="314.8" stroke="#111" stroke-width="1.2"/><text class="tk" x="217.5" y="323.4" text-anchor="middle">55</text><line x1="38.5" y1="310.9" x2="42.2" y2="310.9" stroke="#111" stroke-width="1.2"/><text class="tk" x="37.4" y="313.2" text-anchor="end">-150</text><line x1="38.5" y1="291.5" x2="42.2" y2="291.5" stroke="#111" stroke-width="1.2"/><text class="tk" x="37.4" y="293.9" text-anchor="end">-100</text><line x1="38.5" y1="272.1" x2="42.2" y2="272.1" stroke="#111" stroke-width="1.2"/><text class="tk" x="37.4" y="274.5" text-anchor="end">-50</text><line x1="38.5" y1="252.8" x2="42.2" y2="252.8" stroke="#111" stroke-width="1.2"/><text class="tk" x="37.4" y="255.1" text-anchor="end">0</text><line x1="38.5" y1="233.4" x2="42.2" y2="233.4" stroke="#111" stroke-width="1.2"/><text class="tk" x="37.4" y="235.7" text-anchor="end">50</text><line x1="38.5" y1="214.0" x2="42.2" y2="214.0" stroke="#111" stroke-width="1.2"/><text class="tk" x="37.4" y="216.3" text-anchor="end">100</text><line x1="38.5" y1="194.6" x2="42.2" y2="194.6" stroke="#111" stroke-width="1.2"/><text class="tk" x="37.4" y="197.0" text-anchor="end">150</text><text class="al" style="font-size:9.89px" x="130.0" y="336.8" text-anchor="middle"><tspan font-style="italic">T</tspan> (<tspan dy="-0.7">°</tspan><tspan dy="0.7">C)</tspan></text><text class="al" style="font-size:9.89px" transform="translate(17.2 253.4) rotate(-90)" text-anchor="middle"><tspan font-style="italic">c</tspan><tspan font-style="italic" font-size="7.22px" dy="2.08">p</tspan><tspan dy="-2.08"> (kJ mol</tspan><tspan font-size="5.64px" dy="-4.35">-1</tspan><tspan dy="4.35"> K</tspan><tspan font-size="5.64px" dy="-4.35">-1</tspan><tspan dy="4.35">)</tspan></text><text class="pl" x="121.0" y="360.5" text-anchor="middle">(<tspan font-weight="bold">c</tspan>)</text></g>
<g><line x1="316.2" y1="252.5" x2="490.3" y2="252.5" stroke="#7a7a7a" stroke-width="1" stroke-dasharray="1.3 1.2"/><path d="M316.0 252.9 L316.4 252.2 L317.0 252.3 L317.5 252.7 L318.2 253.1 L318.9 252.4 L319.6 252.3 L320.4 252.5 L321.2 253.2 L322.1 252.3 L323.0 253.2 L323.9 253.0 L324.8 252.3 L325.7 252.8 L326.7 252.7 L327.7 252.6 L328.6 253.4 L329.5 252.1 L330.5 251.9 L331.4 253.1 L332.3 252.3 L333.2 252.0 L334.0 252.1 L334.8 252.0 L335.7 252.7 L336.5 251.6 L337.4 251.5 L338.2 251.9 L339.1 251.7 L340.0 252.1 L340.8 251.8 L341.7 250.9 L342.6 250.6 L343.4 251.3 L344.3 251.3 L345.1 249.8 L346.0 250.6 L346.8 250.7 L347.6 250.2 L348.4 249.4 L349.2 250.0 L349.9 249.8 L350.6 248.9 L351.3 249.3 L352.0 248.6 L353.1 248.1 L354.1 248.3 L355.1 248.0 L356.0 247.8 L356.8 247.9 L357.7 247.9 L358.5 247.9 L359.2 247.6 L360.0 247.4 L360.7 246.9 L361.5 246.0 L362.2 245.6 L363.0 246.0 L363.9 245.6 L364.8 245.6 L365.7 244.5 L366.6 244.5 L367.5 245.3 L368.4 244.6 L369.2 244.6 L370.0 243.6 L370.7 243.8 L371.4 244.3 L372.0 243.8 L373.1 244.0 L374.0 242.6 L374.7 242.6 L375.4 242.8 L376.0 241.9 L377.0 241.7 L377.9 240.5 L378.6 238.5 L380.2 230.4 L381.6 221.7 L382.8 205.9 L384.0 199.4 L385.5 202.8 L386.4 207.6 L387.5 212.5 L388.2 214.3 L388.9 216.3 L390.0 218.4 L390.7 218.3 L391.5 219.0 L392.3 219.8 L393.3 220.2 L394.2 219.7 L395.1 220.2 L395.9 220.5 L396.8 221.6 L397.6 221.7 L398.4 222.3 L399.1 222.1 L399.9 221.5 L400.7 222.4 L401.5 222.8 L402.3 222.1 L403.0 221.7 L403.8 222.4 L404.6 222.5 L405.5 222.6 L406.3 222.8 L407.1 223.2 L408.0 224.6 L408.9 223.9 L409.8 225.2 L410.6 225.1 L411.5 225.7 L412.4 227.2 L413.3 227.2 L414.2 227.9 L415.1 229.1 L416.0 230.3 L416.8 230.8 L417.5 232.0 L418.5 232.3 L419.2 233.3 L419.9 234.4 L421.0 235.0 L421.6 236.0 L422.3 236.2 L423.1 236.4 L423.9 237.0 L424.8 238.6 L425.6 239.3 L426.5 240.2 L427.5 240.5 L428.4 240.9 L429.2 240.8 L430.0 242.2 L430.8 241.6 L431.6 242.4 L432.5 242.4 L433.4 243.1 L434.2 243.4 L435.1 243.9 L436.0 244.7 L437.0 244.8 L437.9 244.7 L438.7 245.8 L439.5 246.1 L440.4 246.5 L441.2 245.7 L442.1 246.9 L442.9 247.6 L443.8 247.0 L444.7 247.2 L445.5 248.4 L446.4 248.0 L447.3 248.3 L448.1 249.2 L449.0 248.8 L449.8 248.8 L450.7 249.1 L451.5 249.5 L452.3 250.2 L453.1 249.9 L453.9 250.7 L454.7 249.9 L455.5 250.4 L456.3 251.1 L457.2 251.0 L458.1 251.2 L459.0 252.0 L460.0 251.2 L460.7 251.1 L461.5 251.0 L462.3 251.7 L463.1 251.6 L463.9 251.9 L464.7 251.3 L465.6 251.3 L466.4 251.9 L467.3 252.5 L468.1 251.9 L469.0 252.8 L469.9 252.4 L470.7 252.2 L471.6 252.7 L472.5 252.0 L473.3 252.6 L474.2 252.9 L475.0 252.6 L475.8 252.3 L476.7 252.0 L477.6 252.7 L478.6 252.2 L479.5 252.5 L480.5 252.8 L481.5 253.3 L482.4 253.0 L483.3 252.8 L484.2 253.3 L485.1 252.5 L486.0 252.7 L486.8 253.1 L487.5 252.9 L488.2 252.5 L488.8 252.8 L489.3 253.3 L489.8 252.9" fill="none" stroke="#ffb574" stroke-width="1.35" stroke-linejoin="round" stroke-linecap="round"/><path d="M316.0 252.9 C319.0 252.8 328.0 252.9 334.0 252.2 C340.0 251.4 347.2 249.6 352.0 248.4 C356.8 247.2 360.0 245.7 363.0 244.8 C366.0 243.9 368.0 243.8 369.9 243.0 C371.8 242.2 373.3 241.4 374.4 240.3 C375.5 239.2 376.0 238.3 376.6 236.3 C377.2 234.3 377.7 232.1 378.2 228.5 C378.7 224.9 379.3 218.9 379.8 215.0 C380.3 211.1 380.5 207.5 381.0 205.0 C381.5 202.5 382.1 199.8 382.8 199.8 C383.5 199.8 384.3 202.9 385.1 205.2 C385.9 207.5 386.5 211.2 387.5 213.6 C388.5 216.0 389.7 218.1 391.1 219.5 C392.5 220.9 394.3 221.3 395.9 221.9 C397.5 222.5 399.1 222.5 400.7 223.1 C402.3 223.7 403.9 224.5 405.5 225.5 C407.1 226.5 408.5 227.5 410.3 229.1 C412.1 230.7 414.2 233.5 416.3 235.1 C418.4 236.7 420.5 237.6 422.8 238.9 C425.1 240.2 427.8 241.9 430.3 243.2 C432.8 244.5 434.7 245.5 437.9 246.5 C441.1 247.5 445.6 248.5 449.3 249.3 C453.0 250.1 455.7 250.8 460.0 251.3 C464.3 251.8 470.0 252.1 475.0 252.4 C480.0 252.7 487.3 252.8 489.8 252.9" fill="none" stroke="#ff8c2e" stroke-width="1.35" stroke-linejoin="round" stroke-linecap="round"/><path d="M316.0 252.9 C319.0 252.8 328.0 252.8 334.0 252.0 C340.0 251.2 347.2 249.2 352.0 247.8 C356.8 246.4 360.2 244.9 363.0 243.5 C365.8 242.1 367.6 240.4 369.0 239.5 C370.4 238.6 370.5 240.3 371.4 238.0 C372.3 235.7 373.6 230.0 374.4 225.5 C375.2 221.0 375.6 215.2 376.2 211.2 C376.8 207.2 377.4 203.7 378.0 201.6 C378.6 199.5 379.0 198.8 379.8 198.6 C380.6 198.4 382.1 199.1 382.9 200.4 C383.7 201.7 384.0 204.2 384.7 206.4 C385.4 208.6 386.0 211.6 387.0 213.6 C388.0 215.6 389.0 216.5 390.6 218.3 C392.2 220.1 394.6 222.3 396.6 224.3 C398.6 226.3 400.6 228.4 402.6 230.3 C404.6 232.2 406.4 234.3 408.6 236.0 C410.8 237.7 413.1 239.0 415.9 240.5 C418.7 242.0 422.1 243.7 425.3 245.0 C428.5 246.3 431.3 247.4 434.8 248.3 C438.3 249.2 442.4 249.6 446.2 250.2 C450.0 250.8 450.3 251.1 457.6 251.6 C464.9 252.1 484.4 252.7 489.8 252.9" fill="none" stroke="#ff1d2a" stroke-width="1.35" stroke-linejoin="round" stroke-linecap="round"/><path d="M316.0 252.9 C319.0 252.8 328.0 252.9 334.0 252.0 C340.0 251.1 347.2 249.1 352.0 247.6 C356.8 246.1 360.2 244.7 363.0 243.2 C365.8 241.7 367.4 240.4 369.0 238.5 C370.6 236.6 371.5 235.4 372.5 232.0 C373.5 228.6 374.1 222.5 374.8 218.0 C375.5 213.5 376.2 208.1 376.8 205.0 C377.4 201.9 377.9 200.5 378.5 199.5 C379.1 198.5 379.4 198.6 380.2 198.8 C381.0 199.1 382.5 199.7 383.4 201.0 C384.3 202.3 384.7 204.3 385.4 206.4 C386.1 208.5 386.7 211.6 387.7 213.6 C388.7 215.6 389.7 216.5 391.3 218.3 C392.9 220.1 395.3 222.3 397.3 224.3 C399.3 226.3 401.3 228.4 403.3 230.3 C405.3 232.2 407.1 234.3 409.3 236.0 C411.5 237.7 413.8 239.0 416.6 240.5 C419.4 242.0 422.9 243.7 426.0 245.0 C429.1 246.3 432.0 247.4 435.5 248.3 C439.0 249.2 443.1 249.6 446.9 250.2 C450.7 250.8 451.1 251.1 458.3 251.6 C465.5 252.1 484.6 252.7 489.8 252.9" fill="none" stroke="#ee3040" stroke-width="1.35" stroke-linejoin="round" stroke-linecap="round"/><path d="M316.0 252.9 C319.0 252.8 328.0 252.9 334.0 252.0 C340.0 251.1 347.1 249.0 351.9 247.5 C356.7 246.0 360.5 244.1 362.7 243.0 C364.9 241.9 363.6 242.4 364.8 241.1 C366.0 239.8 368.4 237.5 369.6 235.1 C370.8 232.7 371.3 229.9 372.0 226.7 C372.7 223.5 373.3 219.4 373.8 216.0 C374.3 212.6 374.5 209.0 375.0 206.4 C375.5 203.8 376.1 201.8 376.8 200.4 C377.5 199.0 378.4 198.3 379.2 198.2 C380.0 198.1 380.8 198.4 381.6 199.8 C382.4 201.2 383.2 204.1 384.0 206.4 C384.8 208.7 385.3 211.6 386.3 213.6 C387.3 215.6 388.3 216.5 389.9 218.3 C391.5 220.1 393.9 222.3 395.9 224.3 C397.9 226.3 399.9 228.3 401.9 230.3 C403.9 232.3 405.7 234.6 407.9 236.3 C410.1 238.1 412.4 239.3 415.2 240.8 C418.0 242.3 421.5 243.8 424.6 245.1 C427.8 246.4 430.6 247.6 434.1 248.4 C437.6 249.2 441.7 249.7 445.5 250.2 C449.3 250.7 449.5 251.1 456.9 251.6 C464.3 252.1 484.3 252.7 489.8 252.9" fill="none" stroke="#c80c18" stroke-width="1.35" stroke-linejoin="round" stroke-linecap="round"/><path d="M316.0 254.0 L316.4 253.1 L316.8 253.4 L317.3 253.6 L317.9 255.0 L318.5 254.1 L319.1 254.6 L319.8 253.3 L320.5 254.2 L321.3 255.0 L322.1 254.3 L322.9 255.3 L323.7 255.2 L324.5 254.1 L325.3 253.3 L326.1 255.0 L326.9 253.6 L327.7 253.4 L328.5 255.0 L329.3 255.3 L330.0 255.2 L330.7 255.5 L331.4 253.8 L332.1 253.5 L332.8 253.6 L333.5 255.5 L334.1 253.5 L334.8 253.6 L335.5 253.3 L336.2 253.3 L336.9 253.2 L337.6 253.9 L338.4 253.4 L339.1 253.7 L339.8 255.0 L340.5 253.3 L341.2 254.7 L342.0 254.5 L342.7 254.2 L343.5 254.2 L344.2 254.6 L345.0 254.2 L345.7 253.4 L346.4 253.6 L347.1 253.5 L347.9 253.8 L348.6 255.2 L349.4 253.9 L350.2 253.2 L351.0 254.1 L351.8 254.9 L352.6 254.1 L353.3 254.7 L354.1 253.4 L354.9 253.4 L355.7 254.7 L356.5 253.4 L357.2 254.0 L357.9 254.3 L358.6 253.9 L359.3 253.6 L360.0 253.6 L360.6 255.7 L361.2 255.2 L361.8 255.8 L362.3 254.9 L363.4 256.0 L364.4 256.0 L365.3 255.6 L366.1 255.6 L366.8 255.7 L367.4 255.3 L367.9 255.8 L368.5 256.8 L369.0 255.8 L369.5 257.5 L370.5 257.1 L371.2 257.7 L371.9 258.7 L372.5 258.9 L373.1 258.6 L374.1 260.8 L375.0 262.8 L375.8 265.6 L376.8 272.0 L377.6 275.7 L378.5 281.1 L379.4 284.2 L380.2 284.7 L381.2 285.9 L382.0 284.5 L382.9 281.4 L383.9 278.2 L384.6 277.0 L385.3 274.7 L386.0 273.2 L386.8 270.7 L387.5 270.6 L388.2 270.1 L388.8 267.6 L389.4 268.2 L390.1 267.3 L391.1 266.6 L391.7 267.2 L392.3 265.9 L393.0 266.6 L393.7 264.7 L394.5 266.6 L395.3 264.7 L396.0 264.2 L396.8 266.0 L397.6 265.5 L398.3 265.2 L399.0 265.2 L399.7 264.2 L400.4 263.4 L401.1 263.6 L401.9 264.8 L402.6 264.7 L403.3 262.9 L404.0 263.2 L404.7 263.0 L405.4 263.9 L406.1 261.8 L406.8 263.5 L407.6 262.1 L408.3 262.7 L409.0 261.7 L409.7 261.6 L410.4 263.3 L411.2 262.3 L411.9 263.3 L412.6 262.9 L413.3 262.5 L414.0 260.9 L414.7 261.9 L415.3 262.6 L416.0 261.4 L416.7 260.2 L417.4 260.3 L418.2 261.8 L419.0 261.6 L419.8 259.7 L420.4 259.7 L421.1 260.4 L421.8 259.7 L422.5 258.7 L423.2 260.2 L424.0 259.2 L424.7 258.4 L425.5 257.4 L426.2 258.2 L427.0 258.4 L427.8 256.9 L428.5 256.5 L429.3 257.7 L430.0 257.9 L430.7 256.5 L431.4 256.6 L432.1 256.8 L432.7 256.4 L433.4 255.4 L434.0 255.5 L434.7 255.2 L435.4 255.1 L436.1 254.7 L436.8 255.3 L437.5 254.8 L438.3 256.0 L439.1 254.7 L440.0 256.0 L440.6 255.6 L441.2 254.3 L441.7 254.0 L442.3 254.8 L442.8 254.5 L443.3 254.6 L443.9 253.6 L444.5 254.4 L445.0 254.8 L445.6 254.1 L446.3 253.6 L446.9 255.0 L447.6 253.5 L448.3 255.0 L449.1 254.3 L450.0 252.7 L450.8 253.6 L451.8 252.9 L452.8 254.2 L453.9 253.4 L455.0 252.6 L455.5 254.5 L456.1 254.1 L456.7 253.7 L457.3 253.6 L457.9 252.5 L458.6 254.4 L459.2 252.9 L459.9 253.4 L460.7 253.3 L461.4 253.3 L462.2 252.3 L462.9 254.2 L463.7 253.3 L464.5 253.0 L465.3 254.1 L466.1 254.0 L467.0 253.7 L467.8 254.1 L468.7 252.9 L469.5 252.3 L470.4 252.9 L471.2 253.4 L472.1 253.8 L472.9 253.7 L473.8 253.4 L474.6 253.4 L475.4 253.5 L476.3 253.3 L477.1 252.1 L477.9 253.2 L478.7 252.6 L479.5 252.2 L480.3 253.3 L481.1 253.8 L481.8 252.6 L482.5 253.4 L483.3 253.3 L484.0 253.5 L484.6 253.9 L485.3 253.5 L485.9 252.1 L486.5 253.3 L487.0 252.7 L487.6 252.8 L488.1 253.4 L488.6 252.3 L489.0 253.3 L489.4 254.0 L489.8 253.0" fill="none" stroke="#35e3b5" stroke-width="1.35" stroke-linejoin="round" stroke-linecap="round"/><path d="M316.0 252.9 C318.3 253.0 324.1 253.1 330.0 253.5 C335.9 253.9 346.5 254.5 351.6 255.2 C356.7 255.9 358.0 256.9 360.5 257.8 C363.0 258.7 365.3 259.3 366.8 260.5 C368.3 261.7 368.8 262.8 369.5 265.0 C370.2 267.2 370.6 270.7 371.3 274.0 C372.1 277.3 373.2 282.0 374.0 285.0 C374.8 288.0 375.7 290.6 376.3 292.0 C376.9 293.4 377.1 293.8 377.6 293.5 C378.1 293.2 378.6 292.2 379.4 290.5 C380.1 288.8 381.1 285.3 382.1 283.0 C383.2 280.7 384.2 278.3 385.7 276.5 C387.2 274.7 389.0 273.4 391.1 272.2 C393.2 271.0 395.9 270.5 398.3 269.5 C400.7 268.5 403.0 267.3 405.4 266.2 C407.8 265.1 410.2 263.8 412.6 262.8 C415.0 261.8 416.9 261.0 419.8 260.0 C422.7 259.0 425.8 257.9 430.0 257.0 C434.2 256.1 435.0 255.2 445.0 254.5 C455.0 253.8 482.3 253.2 489.8 253.0" fill="none" stroke="#1c9b5e" stroke-width="1.35" stroke-linejoin="round" stroke-linecap="round"/><path d="M316.0 252.9 C318.3 253.0 324.1 253.2 330.0 253.6 C335.9 254.0 346.5 254.4 351.6 255.1 C356.7 255.8 358.0 256.8 360.5 257.7 C363.0 258.6 365.3 259.2 366.8 260.4 C368.3 261.6 368.8 262.5 369.5 264.9 C370.2 267.3 370.6 271.3 371.3 275.0 C372.1 278.7 373.2 283.7 374.0 287.0 C374.8 290.3 375.7 293.4 376.3 295.0 C376.9 296.6 377.1 296.9 377.6 296.5 C378.1 296.1 378.6 294.6 379.4 292.5 C380.1 290.4 381.1 286.6 382.1 284.0 C383.2 281.4 384.2 278.9 385.7 277.0 C387.2 275.1 389.0 273.7 391.1 272.5 C393.2 271.3 395.9 270.8 398.3 269.8 C400.7 268.8 403.0 267.5 405.4 266.4 C407.8 265.2 410.2 263.9 412.6 262.9 C415.0 261.8 416.9 261.1 419.8 260.1 C422.7 259.1 425.8 257.9 430.0 257.0 C434.2 256.1 435.0 255.2 445.0 254.5 C455.0 253.8 482.3 253.2 489.8 253.0" fill="none" stroke="#2a9cf0" stroke-width="1.35" stroke-linejoin="round" stroke-linecap="round"/><path d="M316.0 252.9 C318.3 253.0 324.1 253.4 330.0 253.7 C335.9 254.0 346.5 254.2 351.6 254.9 C356.7 255.6 358.0 256.7 360.5 257.6 C363.0 258.5 365.3 259.1 366.8 260.3 C368.3 261.5 368.8 262.3 369.5 264.8 C370.2 267.3 370.6 271.6 371.3 275.5 C372.1 279.4 373.2 284.5 374.0 288.1 C374.8 291.7 375.7 295.3 376.3 297.0 C376.9 298.7 377.1 298.7 377.6 298.2 C378.1 297.7 378.6 296.5 379.4 294.2 C380.1 291.9 381.1 287.3 382.1 284.5 C383.2 281.7 384.2 279.2 385.7 277.3 C387.2 275.4 389.0 274.0 391.1 272.8 C393.2 271.6 395.9 271.1 398.3 270.1 C400.7 269.1 403.0 267.8 405.4 266.6 C407.8 265.4 410.2 264.1 412.6 263.0 C415.0 261.9 417.8 261.2 419.8 260.3 C421.8 259.4 422.2 258.4 424.6 257.5 C427.0 256.6 430.3 255.8 434.1 255.2 C437.9 254.5 438.1 254.0 447.4 253.6 C456.7 253.2 482.7 253.1 489.8 253.0" fill="none" stroke="#2e3fd6" stroke-width="1.2" stroke-linejoin="round" stroke-linecap="round"/><path d="M316.0 252.9 C318.3 253.1 324.1 253.5 330.0 253.8 C335.9 254.2 346.5 254.4 351.6 255.0 C356.7 255.6 358.0 256.7 360.5 257.6 C363.0 258.5 365.3 259.1 366.8 260.3 C368.3 261.5 368.8 262.3 369.5 264.8 C370.2 267.3 370.6 271.6 371.3 275.5 C372.1 279.4 373.2 284.5 374.0 288.1 C374.8 291.7 375.7 295.4 376.3 297.1 C376.9 298.8 377.1 298.9 377.6 298.5 C378.1 298.1 378.6 296.7 379.4 294.4 C380.1 292.1 381.1 287.4 382.1 284.5 C383.2 281.6 384.2 279.2 385.7 277.3 C387.2 275.4 389.0 274.0 391.1 272.8 C393.2 271.6 395.9 271.1 398.3 270.1 C400.7 269.1 403.0 267.8 405.4 266.6 C407.8 265.4 410.2 264.1 412.6 263.0 C415.0 261.9 417.8 261.3 419.8 260.3 C421.8 259.3 422.2 257.9 424.6 257.0 C427.0 256.1 430.3 255.6 434.1 255.0 C437.9 254.4 438.1 253.8 447.4 253.5 C456.7 253.2 482.7 253.1 489.8 253.0" fill="none" stroke="#1a237e" stroke-width="1.3" stroke-linejoin="round" stroke-linecap="round"/><path d="M316.2 194.6 V310.9 H490.3" fill="none" stroke="#111" stroke-width="1.6"/><line x1="316.2" y1="310.9" x2="316.2" y2="314.8" stroke="#111" stroke-width="1.2"/><text class="tk" x="316.5" y="323.4" text-anchor="middle">25</text><line x1="345.2" y1="310.9" x2="345.2" y2="314.8" stroke="#111" stroke-width="1.2"/><text class="tk" x="345.5" y="323.4" text-anchor="middle">30</text><line x1="374.2" y1="310.9" x2="374.2" y2="314.8" stroke="#111" stroke-width="1.2"/><text class="tk" x="374.5" y="323.4" text-anchor="middle">35</text><line x1="403.2" y1="310.9" x2="403.2" y2="314.8" stroke="#111" stroke-width="1.2"/><text class="tk" x="403.6" y="323.4" text-anchor="middle">40</text><line x1="432.3" y1="310.9" x2="432.3" y2="314.8" stroke="#111" stroke-width="1.2"/><text class="tk" x="432.6" y="323.4" text-anchor="middle">45</text><line x1="461.3" y1="310.9" x2="461.3" y2="314.8" stroke="#111" stroke-width="1.2"/><text class="tk" x="461.6" y="323.4" text-anchor="middle">50</text><line x1="490.3" y1="310.9" x2="490.3" y2="314.8" stroke="#111" stroke-width="1.2"/><text class="tk" x="490.6" y="323.4" text-anchor="middle">55</text><line x1="312.5" y1="310.9" x2="316.2" y2="310.9" stroke="#111" stroke-width="1.2"/><text class="tk" x="311.4" y="313.2" text-anchor="end">-150</text><line x1="312.5" y1="291.5" x2="316.2" y2="291.5" stroke="#111" stroke-width="1.2"/><text class="tk" x="311.4" y="293.9" text-anchor="end">-100</text><line x1="312.5" y1="272.1" x2="316.2" y2="272.1" stroke="#111" stroke-width="1.2"/><text class="tk" x="311.4" y="274.5" text-anchor="end">-50</text><line x1="312.5" y1="252.8" x2="316.2" y2="252.8" stroke="#111" stroke-width="1.2"/><text class="tk" x="311.4" y="255.1" text-anchor="end">0</text><line x1="312.5" y1="233.4" x2="316.2" y2="233.4" stroke="#111" stroke-width="1.2"/><text class="tk" x="311.4" y="235.7" text-anchor="end">50</text><line x1="312.5" y1="214.0" x2="316.2" y2="214.0" stroke="#111" stroke-width="1.2"/><text class="tk" x="311.4" y="216.3" text-anchor="end">100</text><line x1="312.5" y1="194.6" x2="316.2" y2="194.6" stroke="#111" stroke-width="1.2"/><text class="tk" x="311.4" y="197.0" text-anchor="end">150</text><text class="al" style="font-size:9.89px" x="403.2" y="336.8" text-anchor="middle"><tspan font-style="italic">T</tspan> (<tspan dy="-0.7">°</tspan><tspan dy="0.7">C)</tspan></text><text class="al" style="font-size:9.89px" transform="translate(290.6 253.4) rotate(-90)" text-anchor="middle"><tspan font-style="italic">c</tspan><tspan font-style="italic" font-size="7.22px" dy="2.08">p</tspan><tspan dy="-2.08"> (kJ mol</tspan><tspan font-size="5.64px" dy="-4.35">-1</tspan><tspan dy="4.35"> K</tspan><tspan font-size="5.64px" dy="-4.35">-1</tspan><tspan dy="4.35">)</tspan></text><text class="pl" x="394.2" y="360.0" text-anchor="middle">(<tspan font-weight="bold">d</tspan>)</text></g>
<g><line x1="45.2" y1="449.4" x2="217.4" y2="449.4" stroke="#7a7a7a" stroke-width="1" stroke-dasharray="1.3 1.2"/><path d="M45.2 449.0 L45.6 448.8 L46.0 448.4 L46.5 448.3 L47.1 449.8 L47.7 449.1 L48.3 449.3 L49.0 449.0 L49.7 448.7 L50.5 449.4 L51.3 449.0 L52.1 449.4 L52.9 449.2 L53.7 449.5 L54.5 448.7 L55.3 448.1 L56.1 448.0 L57.0 449.1 L57.7 448.0 L58.5 448.9 L59.3 448.8 L60.0 447.6 L60.7 449.0 L61.4 447.4 L62.2 449.0 L62.9 448.9 L63.6 447.6 L64.4 448.5 L65.1 448.4 L65.8 447.1 L66.6 448.1 L67.3 447.0 L68.0 448.4 L68.8 447.9 L69.5 448.4 L70.2 446.4 L70.9 446.8 L71.6 447.3 L72.3 447.2 L73.0 446.2 L73.7 447.5 L74.4 447.3 L75.0 446.1 L75.8 445.6 L76.6 446.5 L77.3 445.9 L78.1 446.2 L78.8 445.7 L79.5 445.4 L80.2 444.4 L81.0 444.5 L81.6 445.0 L82.3 445.3 L83.0 444.6 L83.7 445.0 L84.4 444.4 L85.0 444.9 L85.7 444.2 L86.3 443.4 L87.0 442.8 L87.8 442.4 L88.6 442.0 L89.4 443.4 L90.1 443.1 L90.9 442.6 L91.7 441.0 L92.4 441.8 L93.1 440.4 L93.9 441.6 L94.6 440.8 L95.2 440.7 L95.9 440.0 L96.6 439.3 L97.2 439.8 L98.0 439.5 L98.9 437.5 L99.6 437.3 L100.4 437.2 L101.1 436.5 L101.8 435.3 L102.5 434.8 L103.1 435.2 L103.8 433.2 L104.4 432.5 L105.3 432.8 L106.2 431.3 L107.0 431.9 L107.8 430.2 L108.5 430.7 L109.2 428.9 L109.8 429.1 L110.8 426.0 L111.6 422.9 L112.2 419.3 L113.0 417.6 L114.0 416.6 L114.6 416.6 L115.3 417.4 L116.2 416.0 L117.0 416.2 L117.9 416.6 L118.7 415.6 L119.5 415.7 L120.3 415.3 L121.2 415.9 L122.0 414.5 L122.8 416.0 L123.5 414.8 L124.3 414.5 L125.0 413.7 L125.7 413.0 L126.4 413.3 L127.1 412.4 L127.8 411.4 L128.5 408.8 L129.3 408.9 L130.0 408.6 L130.7 407.1 L131.4 406.1 L132.2 405.6 L132.9 404.0 L133.7 404.6 L134.3 404.4 L135.1 402.6 L135.9 403.6 L136.7 404.6 L137.3 405.1 L138.1 407.2 L138.8 409.3 L139.6 410.9 L140.3 411.2 L141.0 412.3 L141.8 415.2 L142.6 416.1 L143.3 418.0 L143.9 419.4 L144.6 420.6 L145.3 423.6 L146.2 425.1 L146.8 426.9 L147.4 427.3 L148.1 427.0 L148.9 428.1 L149.7 428.9 L150.6 428.8 L151.6 429.4 L152.2 430.4 L152.9 430.0 L153.6 431.3 L154.3 432.7 L155.1 433.0 L155.8 431.9 L156.6 433.9 L157.4 434.2 L158.2 434.6 L159.0 433.7 L159.7 435.6 L160.5 434.8 L161.2 436.3 L162.0 435.6 L162.7 436.0 L163.4 435.8 L164.2 437.4 L164.9 436.3 L165.6 437.8 L166.4 437.2 L167.1 436.7 L167.9 437.9 L168.7 437.9 L169.5 437.2 L170.2 439.0 L170.8 438.1 L171.5 437.9 L172.3 439.6 L173.0 439.8 L173.7 439.4 L174.4 439.3 L175.2 440.3 L175.9 440.7 L176.6 441.2 L177.4 441.0 L178.1 441.5 L178.8 442.0 L179.6 441.2 L180.3 441.5 L181.0 442.3 L181.7 443.1 L182.5 443.4 L183.2 443.7 L183.9 443.1 L184.6 443.9 L185.3 442.9 L186.1 443.7 L186.8 443.3 L187.5 445.0 L188.2 445.5 L188.9 445.1 L189.7 445.4 L190.4 444.9 L191.1 445.9 L191.8 444.6 L192.5 445.4 L193.2 445.5 L193.9 446.7 L194.6 445.5 L195.2 445.6 L195.9 445.6 L196.6 447.3 L197.3 446.4 L198.0 447.7 L198.8 446.6 L199.5 447.8 L200.3 446.7 L201.1 448.2 L202.0 448.4 L202.6 448.3 L203.3 448.0 L204.0 448.5 L204.7 448.6 L205.5 448.8 L206.3 447.5 L207.1 448.7 L207.9 448.6 L208.7 447.8 L209.6 447.5 L210.4 449.0 L211.2 448.2 L212.0 448.3 L212.7 449.1 L213.5 448.3 L214.2 447.9 L214.9 448.8 L215.5 448.5 L216.0 448.1 L216.6 448.9 L217.0 449.4 L217.4 448.6" fill="none" stroke="#ffb574" stroke-width="1.35" stroke-linejoin="round" stroke-linecap="round"/><path d="M45.2 449.0 C47.2 448.9 53.0 448.7 57.0 448.3 C61.0 447.9 65.8 447.1 69.0 446.5 C72.2 445.9 74.0 445.2 76.0 444.6 C78.0 444.0 79.3 443.5 81.0 442.8 C82.7 442.1 84.4 441.3 86.0 440.5 C87.6 439.7 89.2 438.6 90.5 437.8 C91.8 437.0 92.6 436.4 93.5 435.5 C94.4 434.6 95.0 433.9 96.0 432.5 C97.0 431.1 98.4 429.4 99.6 427.0 C100.8 424.6 101.9 420.5 103.0 418.0 C104.1 415.5 105.1 413.2 106.0 412.0 C106.9 410.8 107.7 410.4 108.5 410.5 C109.3 410.6 110.2 412.1 111.0 412.5 C111.8 412.9 112.1 413.2 113.0 413.0 C113.9 412.8 115.3 412.0 116.5 411.0 C117.7 410.0 118.8 408.3 120.0 407.0 C121.2 405.7 122.5 404.0 123.5 403.0 C124.5 402.0 125.2 401.4 126.0 401.0 C126.8 400.6 127.6 400.4 128.3 400.8 C129.1 401.2 129.9 402.5 130.5 403.5 C131.1 404.5 131.1 404.7 131.9 406.8 C132.7 408.9 134.1 413.1 135.5 416.3 C136.9 419.5 138.5 423.5 140.3 425.9 C142.1 428.3 143.4 429.3 146.2 430.9 C149.0 432.5 153.6 434.2 156.9 435.4 C160.2 436.6 162.6 436.9 165.9 438.1 C169.2 439.3 173.1 441.2 176.7 442.6 C180.3 444.0 183.6 445.3 187.5 446.2 C191.4 447.1 195.0 447.6 200.0 448.0 C205.0 448.4 214.5 448.7 217.4 448.8" fill="none" stroke="#ff8c2e" stroke-width="1.35" stroke-linejoin="round" stroke-linecap="round"/><path d="M45.2 449.0 C47.2 448.9 53.0 448.6 57.0 448.1 C61.0 447.6 65.8 446.7 69.0 446.0 C72.2 445.3 74.0 444.7 76.0 444.0 C78.0 443.3 79.3 442.8 81.0 442.0 C82.7 441.2 84.4 440.4 86.0 439.5 C87.6 438.6 89.2 437.7 90.5 436.8 C91.8 435.9 92.6 435.2 93.5 434.3 C94.4 433.4 95.0 432.9 96.0 431.5 C97.0 430.1 98.4 428.6 99.6 425.9 C100.8 423.2 102.1 417.8 103.2 415.1 C104.3 412.4 105.4 410.9 106.2 409.8 C107.0 408.7 107.3 408.5 108.0 408.6 C108.7 408.7 109.6 409.9 110.4 410.4 C111.2 410.9 111.8 411.7 112.8 411.6 C113.8 411.5 115.1 410.8 116.3 409.8 C117.5 408.8 118.7 406.9 119.9 405.6 C121.1 404.3 122.4 402.7 123.5 402.0 C124.6 401.3 125.6 401.2 126.5 401.4 C127.4 401.6 128.1 401.7 128.9 403.2 C129.7 404.7 130.4 407.8 131.3 410.4 C132.2 413.0 133.2 416.2 134.3 418.7 C135.4 421.2 136.5 423.3 137.9 425.3 C139.3 427.3 140.4 429.0 142.7 430.7 C145.0 432.4 148.3 434.0 151.6 435.4 C154.9 436.8 158.7 437.7 162.3 439.0 C165.9 440.3 169.5 441.9 173.1 443.1 C176.7 444.4 179.5 445.6 184.0 446.5 C188.5 447.4 194.4 447.9 200.0 448.3 C205.6 448.7 214.5 448.7 217.4 448.8" fill="none" stroke="#ff1d2a" stroke-width="1.35" stroke-linejoin="round" stroke-linecap="round"/><path d="M45.2 449.0 C47.2 448.8 53.0 448.5 57.0 447.9 C61.0 447.3 65.8 446.2 69.0 445.4 C72.2 444.6 74.0 444.0 76.0 443.3 C78.0 442.6 79.3 441.8 81.0 441.0 C82.7 440.2 84.4 439.4 86.0 438.5 C87.6 437.6 89.2 436.6 90.5 435.6 C91.8 434.7 92.7 433.7 93.5 432.8 C94.3 431.9 94.8 431.4 95.5 430.5 C96.2 429.6 96.9 429.3 97.6 427.5 C98.3 425.7 98.9 422.1 99.6 419.9 C100.3 417.6 101.1 416.2 102.0 414.0 C102.9 411.8 104.0 408.6 105.0 406.8 C106.0 405.0 106.9 403.9 108.0 403.2 C109.1 402.5 110.3 402.8 111.6 402.6 C112.9 402.4 114.5 402.0 115.7 402.0 C116.9 402.0 117.8 402.1 118.7 402.6 C119.6 403.1 120.2 403.7 121.1 405.0 C122.0 406.3 123.1 408.5 124.1 410.4 C125.1 412.3 126.0 414.4 127.1 416.3 C128.2 418.2 129.5 420.1 130.7 421.7 C131.9 423.3 132.9 424.5 134.3 425.9 C135.7 427.3 137.3 428.8 139.1 430.1 C140.9 431.4 143.3 432.8 145.1 433.7 C146.9 434.6 147.9 434.6 149.9 435.3 C151.9 436.0 154.2 437.0 156.9 438.1 C159.6 439.2 162.9 440.6 165.9 441.7 C168.9 442.8 171.9 444.0 174.9 444.9 C177.9 445.8 179.7 446.5 183.9 447.1 C188.1 447.7 194.4 448.2 200.0 448.5 C205.6 448.8 214.5 448.8 217.4 448.9" fill="none" stroke="#c80c18" stroke-width="1.35" stroke-linejoin="round" stroke-linecap="round"/><path d="M45.2 449.0 L45.6 449.5 L46.0 447.7 L46.6 448.5 L47.1 448.4 L47.8 450.0 L48.4 450.0 L49.1 450.7 L49.9 448.4 L50.7 449.5 L51.4 448.4 L52.3 449.1 L53.1 450.1 L53.9 448.7 L54.7 449.4 L55.5 450.8 L56.4 450.6 L57.1 449.8 L57.9 451.0 L58.6 451.7 L59.3 449.4 L60.0 451.9 L60.8 451.7 L61.5 450.7 L62.3 450.3 L63.0 452.8 L63.8 451.0 L64.5 450.4 L65.2 450.5 L65.9 452.9 L66.6 452.2 L67.3 452.9 L68.0 452.8 L68.7 452.4 L69.3 453.8 L70.0 452.2 L70.7 452.8 L71.3 453.8 L72.0 453.4 L72.8 454.3 L73.5 453.7 L74.3 454.4 L75.0 452.7 L75.8 453.5 L76.5 454.0 L77.3 453.7 L78.0 454.5 L78.7 454.4 L79.4 455.2 L80.1 456.6 L80.8 456.0 L81.5 456.3 L82.1 456.0 L82.7 456.4 L83.6 458.6 L84.4 458.0 L85.2 458.0 L85.9 456.8 L86.7 458.5 L87.3 456.9 L88.0 457.6 L88.7 459.4 L89.3 458.4 L89.9 458.2 L90.7 458.5 L91.5 458.9 L92.3 458.6 L93.0 456.9 L93.7 456.2 L94.3 457.0 L95.0 456.8 L95.9 456.7 L96.8 459.0 L97.6 458.9 L98.3 457.5 L99.0 459.0 L100.0 459.3 L100.8 462.4 L101.5 462.9 L102.5 465.8 L103.5 469.2 L104.3 473.0 L105.2 473.6 L106.0 473.9 L106.9 473.3 L107.9 470.2 L108.5 468.8 L109.2 470.1 L109.9 467.7 L110.7 465.5 L111.5 464.6 L112.2 464.4 L112.9 465.6 L113.6 465.8 L114.4 464.4 L115.2 463.1 L116.0 463.9 L116.9 465.7 L117.5 464.3 L118.2 465.6 L119.0 465.4 L119.7 462.9 L120.5 465.2 L121.2 465.2 L121.9 464.9 L122.7 464.2 L123.4 465.4 L124.0 463.9 L124.9 465.0 L125.7 465.1 L126.6 466.6 L127.4 466.4 L128.1 464.6 L128.8 465.4 L129.4 464.5 L130.4 467.2 L131.1 467.7 L132.0 465.9 L132.6 466.4 L133.3 465.4 L134.0 463.0 L134.9 463.7 L136.0 462.1 L136.6 462.5 L137.2 461.3 L137.9 459.4 L138.6 460.0 L139.4 458.7 L140.1 461.1 L140.9 460.6 L141.7 460.1 L142.5 458.1 L143.3 457.0 L144.0 459.1 L144.7 459.0 L145.4 456.0 L146.2 456.8 L146.9 455.2 L147.6 456.9 L148.3 456.5 L149.0 454.2 L149.7 454.9 L150.5 454.8 L151.2 453.6 L151.9 455.1 L152.6 453.5 L153.3 452.6 L154.1 453.4 L154.8 453.8 L155.5 452.0 L156.3 452.2 L157.0 454.1 L157.7 452.9 L158.4 452.1 L159.2 452.2 L159.9 450.9 L160.6 451.0 L161.3 451.3 L162.0 451.9 L162.7 450.8 L163.4 450.6 L164.0 450.1 L164.8 451.7 L165.5 450.4 L166.3 452.4 L167.1 452.2 L168.0 449.7 L168.6 450.2 L169.2 451.4 L169.8 450.0 L170.4 449.7 L171.0 452.0 L171.6 450.8 L172.3 450.5 L172.9 451.4 L173.6 451.4 L174.3 449.5 L175.0 449.1 L175.8 450.1 L176.5 450.0 L177.4 450.1 L178.2 450.8 L179.1 450.6 L180.0 451.5 L180.6 448.8 L181.2 449.6 L181.8 449.4 L182.5 451.0 L183.1 449.1 L183.8 448.9 L184.5 449.6 L185.2 449.5 L185.9 449.1 L186.7 449.0 L187.4 451.0 L188.1 449.5 L188.9 450.7 L189.7 449.8 L190.4 448.2 L191.2 451.1 L192.0 450.5 L192.7 450.9 L193.5 450.8 L194.2 450.5 L195.0 448.4 L195.7 449.4 L196.5 448.5 L197.2 449.1 L197.9 448.0 L198.6 449.0 L199.3 450.8 L200.0 448.6 L200.8 450.1 L201.6 449.1 L202.4 449.0 L203.3 450.6 L204.1 450.7 L204.9 449.4 L205.8 449.8 L206.6 448.1 L207.5 448.5 L208.3 450.5 L209.1 449.4 L209.9 449.2 L210.7 449.8 L211.5 447.8 L212.3 449.3 L213.0 449.1 L213.7 450.1 L214.3 448.0 L215.0 450.4 L215.5 447.8 L216.1 448.1 L216.6 449.3 L217.0 449.5 L217.4 449.0" fill="none" stroke="#35e3b5" stroke-width="1.35" stroke-linejoin="round" stroke-linecap="round"/><path d="M45.2 449.0 C49.7 449.1 65.2 449.1 72.0 449.4 C78.8 449.7 82.4 450.1 86.3 450.8 C90.2 451.5 93.2 452.3 95.3 453.5 C97.4 454.7 97.9 455.8 98.9 458.0 C100.0 460.2 100.7 464.2 101.6 466.9 C102.5 469.6 103.4 473.1 104.3 474.1 C105.2 475.2 105.8 474.2 107.0 473.2 C108.2 472.1 109.8 468.9 111.5 467.8 C113.2 466.8 115.1 466.3 116.9 466.9 C118.7 467.5 120.7 470.2 122.2 471.4 C123.7 472.6 124.9 473.7 126.0 473.9 C127.1 474.1 128.0 473.0 129.0 472.5 C130.0 472.0 130.2 472.3 132.0 470.9 C133.8 469.5 137.0 465.8 140.0 464.0 C143.0 462.2 146.6 461.3 149.9 460.0 C153.2 458.7 156.6 457.2 159.9 456.0 C163.2 454.8 166.7 453.9 170.0 453.0 C173.3 452.1 175.0 451.0 180.0 450.4 C185.0 449.8 193.8 449.5 200.0 449.3 C206.2 449.1 214.5 449.1 217.4 449.0" fill="none" stroke="#1c9b5e" stroke-width="1.35" stroke-linejoin="round" stroke-linecap="round"/><path d="M45.2 449.0 C49.7 449.8 64.5 452.1 71.9 453.5 C79.4 454.9 86.0 456.2 89.9 457.1 C93.8 458.0 94.0 457.6 95.3 458.9 C96.6 460.2 97.1 462.3 98.0 465.1 C98.9 467.9 99.9 473.2 100.7 475.9 C101.5 478.5 101.9 480.7 102.8 481.0 C103.7 481.3 104.9 478.8 106.1 477.7 C107.2 476.6 108.5 474.9 109.7 474.1 C110.9 473.4 111.8 473.1 113.3 473.2 C114.8 473.3 117.1 474.4 118.6 475.0 C120.1 475.6 121.0 477.0 122.2 477.0 C123.4 477.0 124.2 476.2 125.8 475.0 C127.4 473.8 129.6 471.5 132.0 470.0 C134.4 468.5 137.0 467.5 140.0 466.0 C143.0 464.5 146.6 462.5 149.9 461.0 C153.2 459.5 156.6 458.2 159.9 457.0 C163.2 455.8 166.6 454.6 169.9 453.6 C173.2 452.6 175.0 451.7 180.0 451.0 C185.0 450.3 193.8 449.8 200.0 449.5 C206.2 449.2 214.5 449.1 217.4 449.0" fill="none" stroke="#2a9cf0" stroke-width="1.35" stroke-linejoin="round" stroke-linecap="round"/><path d="M45.2 449.0 C47.6 449.4 54.9 450.8 59.4 451.7 C63.9 452.6 68.3 453.5 71.9 454.4 C75.5 455.3 78.2 456.2 80.9 457.1 C83.6 458.0 86.2 458.9 88.1 459.8 C90.0 460.7 91.1 461.0 92.1 462.5 C93.1 464.0 93.2 466.2 93.9 468.7 C94.6 471.2 95.4 474.8 96.2 477.7 C97.0 480.6 98.0 483.9 98.9 485.8 C99.8 487.8 100.7 488.9 101.6 489.4 C102.5 489.8 103.4 488.8 104.3 488.5 C105.2 488.2 106.0 487.3 107.0 487.6 C108.0 487.9 109.5 489.5 110.6 490.3 C111.6 491.1 112.4 492.4 113.3 492.5 C114.2 492.6 114.8 492.5 116.0 491.2 C117.2 489.9 119.1 486.9 120.4 484.9 C121.7 482.8 122.4 481.1 124.0 478.9 C125.6 476.7 127.3 474.4 130.0 471.9 C132.7 469.4 136.7 466.1 140.0 464.0 C143.3 461.9 146.6 460.5 149.9 459.0 C153.2 457.5 156.6 456.2 159.9 455.0 C163.2 453.8 166.6 452.8 169.9 452.0 C173.2 451.2 174.9 450.8 179.9 450.4 C184.9 449.9 193.8 449.5 200.0 449.3 C206.2 449.1 214.5 449.1 217.4 449.0" fill="none" stroke="#2d1f8e" stroke-width="1.3" stroke-linejoin="round" stroke-linecap="round"/><path d="M45.2 380.4 V495.2 H217.4" fill="none" stroke="#111" stroke-width="1.6"/><line x1="45.2" y1="495.2" x2="45.2" y2="499.1" stroke="#111" stroke-width="1.2"/><text class="tk" x="45.5" y="507.7" text-anchor="middle">25</text><line x1="73.9" y1="495.2" x2="73.9" y2="499.1" stroke="#111" stroke-width="1.2"/><text class="tk" x="74.2" y="507.7" text-anchor="middle">30</text><line x1="102.6" y1="495.2" x2="102.6" y2="499.1" stroke="#111" stroke-width="1.2"/><text class="tk" x="102.9" y="507.7" text-anchor="middle">35</text><line x1="131.3" y1="495.2" x2="131.3" y2="499.1" stroke="#111" stroke-width="1.2"/><text class="tk" x="131.6" y="507.7" text-anchor="middle">40</text><line x1="160.0" y1="495.2" x2="160.0" y2="499.1" stroke="#111" stroke-width="1.2"/><text class="tk" x="160.3" y="507.7" text-anchor="middle">45</text><line x1="188.7" y1="495.2" x2="188.7" y2="499.1" stroke="#111" stroke-width="1.2"/><text class="tk" x="189.0" y="507.7" text-anchor="middle">50</text><line x1="217.4" y1="495.2" x2="217.4" y2="499.1" stroke="#111" stroke-width="1.2"/><text class="tk" x="217.7" y="507.7" text-anchor="middle">55</text><line x1="41.5" y1="495.2" x2="45.2" y2="495.2" stroke="#111" stroke-width="1.2"/><text class="tk" x="40.4" y="497.6" text-anchor="end">-100</text><line x1="41.5" y1="472.2" x2="45.2" y2="472.2" stroke="#111" stroke-width="1.2"/><text class="tk" x="40.4" y="474.6" text-anchor="end">-50</text><line x1="41.5" y1="449.3" x2="45.2" y2="449.3" stroke="#111" stroke-width="1.2"/><text class="tk" x="40.4" y="451.6" text-anchor="end">0</text><line x1="41.5" y1="426.3" x2="45.2" y2="426.3" stroke="#111" stroke-width="1.2"/><text class="tk" x="40.4" y="428.7" text-anchor="end">50</text><line x1="41.5" y1="403.4" x2="45.2" y2="403.4" stroke="#111" stroke-width="1.2"/><text class="tk" x="40.4" y="405.7" text-anchor="end">100</text><line x1="41.5" y1="380.4" x2="45.2" y2="380.4" stroke="#111" stroke-width="1.2"/><text class="tk" x="40.4" y="382.8" text-anchor="end">150</text><text class="al" style="font-size:9.89px" x="131.6" y="520.8" text-anchor="middle"><tspan font-style="italic">T</tspan> (<tspan dy="-0.7">°</tspan><tspan dy="0.7">C)</tspan></text><text class="al" style="font-size:9.89px" transform="translate(17.2 437.5) rotate(-90)" text-anchor="middle"><tspan font-style="italic">c</tspan><tspan font-style="italic" font-size="7.22px" dy="2.08">p</tspan><tspan dy="-2.08"> (kJ mol</tspan><tspan font-size="5.64px" dy="-4.35">-1</tspan><tspan dy="4.35"> K</tspan><tspan font-size="5.64px" dy="-4.35">-1</tspan><tspan dy="4.35">)</tspan></text><text class="pl" x="121.0" y="544.0" text-anchor="middle">(<tspan font-weight="bold">e</tspan>)</text></g>
</svg></body></html>
